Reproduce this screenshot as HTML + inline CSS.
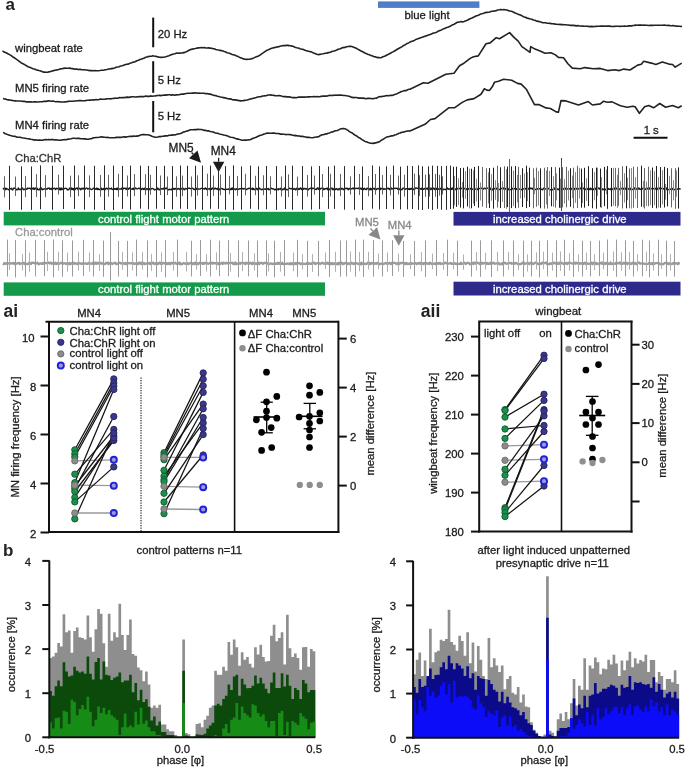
<!DOCTYPE html>
<html><head><meta charset="utf-8"><title>figure</title>
<style>html,body{margin:0;padding:0;background:#fff;} svg{display:block;} text{font-family:"Liberation Sans", Arial, sans-serif;}</style>
</head><body>
<svg width="685" height="767" viewBox="0 0 685 767">
<rect width="685" height="767" fill="#fff"/>
<text x="5.5" y="10" font-size="17" fill="#222" text-anchor="start" font-weight="bold" >a</text>
<rect x="378" y="1.4" width="101.4" height="6.5" fill="#4f7dc8"/>
<text x="404.4" y="19.1" font-size="11.3" fill="#1c1c1c" stroke="#1c1c1c" stroke-width="0.3" text-anchor="start" >blue light</text>
<line x1="153.2" y1="17.6" x2="153.2" y2="47.3" stroke="#111" stroke-width="2" />
<line x1="153.2" y1="61.2" x2="153.2" y2="92.8" stroke="#111" stroke-width="2" />
<line x1="153.2" y1="101" x2="153.2" y2="132.3" stroke="#111" stroke-width="2" />
<text x="157.7" y="37.7" font-size="11.3" fill="#1c1c1c" stroke="#1c1c1c" stroke-width="0.3" text-anchor="start" >20 Hz</text>
<text x="157.7" y="84.4" font-size="11.3" fill="#1c1c1c" stroke="#1c1c1c" stroke-width="0.3" text-anchor="start" >5 Hz</text>
<text x="157.7" y="120.2" font-size="11.3" fill="#1c1c1c" stroke="#1c1c1c" stroke-width="0.3" text-anchor="start" >5 Hz</text>
<text x="15" y="51.5" font-size="11.3" fill="#1c1c1c" stroke="#1c1c1c" stroke-width="0.3" text-anchor="start" >wingbeat rate</text>
<text x="15" y="91.8" font-size="11.3" fill="#1c1c1c" stroke="#1c1c1c" stroke-width="0.3" text-anchor="start" >MN5 firing rate</text>
<text x="15" y="128.8" font-size="11.3" fill="#1c1c1c" stroke="#1c1c1c" stroke-width="0.3" text-anchor="start" >MN4 firing rate</text>
<line x1="633.6" y1="137.7" x2="667.5" y2="137.7" stroke="#111" stroke-width="2" />
<text x="643.7" y="133.9" font-size="11.3" fill="#1c1c1c" stroke="#1c1c1c" stroke-width="0.3" text-anchor="start" >1 s</text>
<polyline points="2.5,51.1 3.4,51.5 4.6,52.2 6.1,52.7 7.9,53.8 10,54.9 11.2,55.6 12.5,56.7 13.9,57.5 15.5,58.7 17,59.7 18.6,60.8 20.3,62.1 21.9,63.3 23.5,64 25,64.9 26.5,65.8 28.1,66.7 29.7,67.3 31.3,67.9 32.9,68.8 34.5,69 36,69.8 37.4,70.1 38.8,70.5 40,70.8 41.9,71.5 43.3,72.1 44.5,72.1 45.9,72.2 48,72.1 49.2,71.8 50.6,71.6 52,71 53.6,70.6 55.2,70.2 56.9,69.9 58.6,69.4 60.3,68.9 61.9,68.7 63.5,68.4 65,68.1 66.6,68.2 68,68.2 69.5,68.1 70.9,68.4 72.3,68.6 73.7,68.9 75.2,69.1 76.7,69.1 78.3,69.6 80,69.3 81.4,69.6 82.8,69.8 84.2,69.7 85.6,70 87.1,70 88.6,70.4 90.1,70.6 91.7,70.6 93.3,70.8 94.9,70.6 96.6,70.8 98.3,70.7 100,70.5 101.3,70.3 102.7,70.3 104.1,70.1 105.6,69.7 107,69.5 108.5,69 110,68.9 111.6,68.6 113.1,68.4 114.6,67.9 116.1,67.3 117.6,67 119.1,66.7 120.6,66 122.1,65.8 123.6,65.3 125,64.8 126.6,64.3 128.3,64.1 130,63.2 131.7,62.7 133.4,62.1 135.1,61.7 136.8,60.7 138.4,60.2 140,59.6 141.6,59.1 143.1,58.5 144.5,58 145.7,57.3 146.9,57 148,56.6 150.4,56.2 151.9,56.1 152.9,55.8 153.8,56 155,56.2 156.5,56.4 157.9,56.9 159.5,57.3 161.1,57.4 163,57.2 164.3,57.1 165.8,56.7 167.3,56.2 168.9,55.8 170.5,55.1 172,54.5 173.6,54 175,53.7 176.6,53.1 178.1,53.3 179.7,53.1 181.2,53 182.6,52.9 183.9,52.6 185,52.4 186.9,51.5 188.1,50.8 190,49.7 191.2,49.4 192.5,49.1 193.9,48.8 195.5,48.5 197,48.1 198.5,47.9 200,47.8 201.4,47.6 202.9,47.7 204.3,47.6 205.7,48 207.1,48 208.6,47.9 210,48.1 211.4,48.3 212.9,48.6 214.3,48.8 215.7,49.4 217.1,49.8 218.6,50 220,50.4 221.4,50.6 222.9,51.1 224.3,51.6 225.7,52 227.1,52.8 228.6,53 230,53.4 231.5,54.3 233,54.7 234.5,55.1 236.1,55.8 237.5,56.2 238.8,56.9 240,57.5 242,58.3 243.5,58.9 245,59.2 246.6,59.4 248.1,59.3 250,59.2 251.4,58.7 252.9,58.4 254.5,57.6 256.2,56.8 258,56.2 259.3,55.6 260.7,54.6 262,53.7 263.5,52.7 264.9,51.7 266.4,50.6 268,49.9 269.5,49.2 271,48.5 272.7,48 274.3,47.6 275.9,47.2 277.4,46.9 278.8,46.7 280,46.2 282.1,45.8 283.4,45.6 285,45.6 286.3,45.4 287.6,45.4 289,45.6 290.5,45.8 292,46.1 293.5,46.6 295,47.2 296.6,47.7 298.3,48 300,48.7 301.3,49.1 302.8,49.3 304.3,49.9 305.7,50.5 307.2,50.9 308.7,51.3 310,51.6 311.8,52.1 313.5,53 315.1,53.5 316.6,54.2 318,54.6 319.9,54.4 321.4,54 323,53.8 324.1,53.6 325.2,53.3 326.5,53.1 328.5,52.6 329.6,52.5 330.9,52 332.4,51.3 334,51 335.6,50.5 337.3,49.8 338.9,49.1 340.4,48.7 341.8,48 343,47.6 345,47.4 346.6,46.8 347.9,46.5 349.1,46.4 350.3,46.2 351.8,46.5 353.1,47 355,47.7 356.2,48.3 357.7,49.1 359.3,50 361,51 362.7,51.8 364.4,52.7 366,53.4 367.6,54.3 369.3,54.8 371,55.4 372.6,56 374.2,56.7 375.7,56.9 377,57.4 378.7,57.6 379.9,57.8 381.3,57.6 383.5,56.6 384.6,56.3 386,55.5 387.5,54.7 389,54.1 390.7,53 392.4,52.1 394.1,51.3 395.7,50.3 397.3,49.3 398.7,48.5 400,47.8 401.8,46.9 403.3,45.7 404.7,45.1 406.1,44.2 407.3,43.4 408.6,42.9 410,42.1 411.4,41.5 412.9,40.9 414.3,40.4 415.7,39.6 417.1,39.1 418.6,38.5 420,38 421.4,37.5 422.9,36.9 424.3,36.4 425.7,35.9 427.1,35.6 428.6,35 430,34.6 431.4,34.1 432.8,33.3 434.3,32.9 435.7,32.5 437.1,31.9 438.5,31 440,30.4 441.5,29.9 443,29.1 444.6,28.5 446.1,27.7 447.7,27.3 449.1,26.7 450.5,26.1 452.3,24.9 454.1,24.2 455.7,23.3 457.3,22.3 458.7,22.1 460.1,21.8 461.3,21.5 462.5,21.9 464,21.4 465.3,20.9 466.7,20.5 468.3,19.8 469.9,18.8 471.5,18.2 473,17.5 474.5,16.8 476,16 477.6,15.4 479.1,14.9 480.6,14 482,13.7 483.7,13.2 485.3,12.6 486.9,12.4 488.4,12.3 489.8,11.9 491.5,11.3 493,11.3 494.5,10.9 496,10.7 497.6,10 499.2,9.8 500.8,9.5 502.5,9.7 503.9,9.6 505.3,9.7 506.8,10 508.3,10.6 510,11 511.5,11.3 513.2,11.9 514.9,13 516.7,13.6 518.3,14.4 519.7,14.7 521.5,15.5 523,16.4 524.3,16.9 525.6,17.3 527.1,18.2 528.6,18.4 530.5,19 531.8,19.2 533.3,20 534.9,20.2 536.6,21.1 538.3,21.4 540,21.8 541.4,22.2 542.8,22.7 544.3,22.7 545.7,22.8 547.1,23.2 548.6,23.3 550,23.4 551.4,23.6 552.7,23.7 554,23.9 555.4,24.1 556.8,24.2 558.3,24.5 560,24.4 561.3,24.6 562.7,24.6 564.1,24.8 565.6,24.7 567.2,25 568.8,25 570.3,25.4 571.9,25.4 573.5,25.4 575,25.6 576.5,25.9 578,25.6 579.5,26 581,26 582.5,26.1 584,26.3 585.5,26.2 587,26.3 588.5,26.4 590,26.6 591.5,26.4 593,26.6 594.5,26.5 596,26.4 597.5,26.3 599,26.2 600.5,26.1 602,26.1 603.5,26 605,26.3 606.5,26.1 608.1,26.1 609.7,26.1 611.2,26.4 612.8,26.5 614.4,26.4 615.9,26.3 617.3,26.3 618.7,26.3 620,26.4 621.7,26.2 623.2,26.3 624.6,26.1 626,26.3 627.3,26.2 628.6,25.9 630,25.7 631.4,25.9 632.9,25.5 634.3,25.4 635.7,25.1 637.1,25.2 638.6,25.1 640,25.1 641.4,25 642.9,25.2 644.3,25.1 645.7,25.3 647.1,25.3 648.6,25.5 650,25.4 651.4,25.4 652.9,25.4 654.3,25.3 655.7,25.3 657.1,25.2 658.6,25.2 660,25.2 661.4,25.2 662.8,25.3 664.2,25.1 665.6,25.2 667,25.5 668.5,25.3 670,25.6 671.5,25.7 673.1,25.5 674.9,26 676.6,26.1 678.3,26.2 679.8,26.3 681.1,26.5 682,26.4" fill="none" stroke="#222" stroke-width="1.6" stroke-linejoin="round" />
<polyline points="3,98.4 4,98.8 5.3,99.1 6.9,99.6 8.7,99.9 10.5,100.3 12.4,100.4 13.8,100.8 15.3,100.9 16.9,101 18.5,101 20.2,101 21.8,101.2 23.4,101.4 25,101.4 26.5,101.9 28,101.8 29.5,101.9 31,101.9 32.5,102 33.9,101.9 35.5,101.7 37,102 38.4,102 39.8,101.8 41.3,101.7 42.8,101.6 44.2,101.2 45.7,101.4 47.2,101.1 48.6,100.9 50,101 51.5,101.2 53.1,101.1 54.6,101.5 56,101.7 57.5,101.6 59,101.7 60.5,101.9 62,102 63.5,102 65.1,101.9 66.6,101.8 68.2,101.4 69.7,101.3 71.3,101.2 72.8,101.3 74.4,101 76,101 77.6,100.7 79.1,100.6 80.7,100.6 82.3,100.8 83.9,100.7 85.5,100.6 87,100.3 88.5,100.3 90,100.1 91.5,100 93,99.7 94.5,100 95.9,99.5 97.5,99.8 99,99.6 100.4,99.1 101.8,99.2 103.3,99.3 104.8,99.3 106.2,98.9 107.7,98.8 109.2,98.7 110.6,98.9 112,98.5 113.5,98.5 115.1,98.1 116.6,98.2 118,98.2 119.5,97.6 121,97.8 122.5,97.5 124,97.6 125.5,97.4 127.1,97.1 128.7,97.4 130.2,97.1 131.8,96.8 133.4,96.8 134.9,97 136.5,96.9 138.1,96.7 139.6,96.6 141.2,96.6 142.8,96.5 144.3,96.6 145.9,96.1 147.5,96.4 149,96.4 150.5,95.9 152.1,96.2 153.7,96 155.2,96 156.7,95.6 158.2,95.5 159.6,95.4 161,95.6 162.7,95.3 164.3,95.1 165.8,95.1 167.2,94.9 168.6,94.7 170,94.7 171.6,95.1 173.2,94.8 174.7,95.2 176.3,94.9 178,94.8 179.3,94.7 180.7,94.3 182,94.1 183.5,94.1 184.9,93.8 186.4,93.5 188,93.3 189.4,93.3 190.9,93.3 192.4,93.1 194,93.1 195.6,92.8 197.1,93.2 198.6,93.1 200,93.3 201.5,93.3 202.9,93.2 204.3,93.2 205.7,93.8 207.1,93.5 208.5,93.9 210,94.1 211.4,94.4 212.8,95 214.3,95.5 215.8,95.6 217.3,96.2 218.9,96.5 220.4,97 222,97.3 223.4,97.6 224.9,97.9 226.5,98.2 228,98.8 229.6,98.9 231.1,99.1 232.5,99.7 233.8,99.9 235,99.9 236.7,100.1 238.1,100.4 239.3,100.6 240.5,100.9 242,100.7 243.2,100.6 244.5,100.4 245.8,100.2 247.2,100 248.7,99.5 250.3,99 252,98.6 253.3,98.3 254.7,97.9 256.2,97.5 257.8,97 259.3,96.7 260.9,96.7 262.4,96 263.9,95.9 265.3,95.7 266.5,95.6 268.2,95 269.4,95 270.5,94.9 271.7,95.1 273.1,95.2 275,95.6 276.2,95.7 277.5,95.8 279,95.6 280.5,95.8 282.1,96.3 283.8,96.6 285.4,96.6 287.1,96.9 288.7,96.8 290.2,97.1 291.7,97.5 293,97.6 294.8,97.6 296.4,97.7 297.8,97.3 299.2,97.1 300.5,97 301.9,97.1 303.4,97.1 305,97.1 306.4,97 307.8,96.9 309.3,96.9 310.9,96.7 312.4,96.8 314,96.5 315.6,96.8 317.1,96.5 318.6,96.8 320,96.6 321.5,96.3 323,96.1 324.5,96 326,96.1 327.4,96 328.8,95.5 330.2,95.4 331.6,95.5 333,95.4 334.6,95.3 336.1,95.1 337.7,95.3 339.2,95 340.8,95.1 342.2,95.2 343.7,95.5 345,95.5 346.6,95.8 347.9,96 349.1,96.2 350.4,96.7 352,97.4 354,97.6 355.2,97.5 356.5,97.5 357.9,97.9 359.5,98.1 361.1,98.1 362.8,98.1 364.5,98.4 366.1,98.7 367.7,98.4 369.2,98.3 370.6,98.5 371.9,98.6 373,98.7 375,98.3 376.3,98.2 377.2,97.7 378.3,97.1 380,96.6 381.2,96.7 382.6,96.2 384.1,96.3 385.7,95.8 387.4,95.6 389.1,95.7 390.7,95.2 392.1,95.4 393.5,94.9 394.6,94.5 396.5,94 397.6,93.4 398.5,92.9 400,92.3 401.3,91.5 402.8,91.2 404.5,90.6 406.2,90.6 407.7,89.7 409.1,89.3 410,89.3 423.4,82.8 428,83.3 445.8,74.2 454,73.2 459.5,65.7 463,63.8 470.2,58.4 473.5,56.8 478.3,55.9 486,43.7 490.2,42.9 496.2,37.7 499.5,38.8 509.6,32.6 514,37.4 518.2,41.1 521.9,46.6 525.5,49.1 530,52.4 530.7,46.6 535,49.1 540.1,51 545,53.2 551,52.7 555.5,54.9 558.4,57.4 563.5,57.8 567.9,63.7 572.3,68.1 580.3,68.8 584.7,67.6 593.4,68.8 600.3,68.4 607.6,70.6 614.7,69.7 619.4,70.6 623.8,69.1 630,70 637.7,65.1 641.3,64.2 643.7,61.2 651.3,63.1 655.8,64.5 662.3,62.1 668.9,64.1 672.6,64.5 675.2,67.1 681.7,63.1" fill="none" stroke="#222" stroke-width="1.6" stroke-linejoin="round" />
<polyline points="3,132.4 4,132.9 5.3,133.7 6.9,134.3 8.7,134.9 10.5,135.6 12.4,136.1 13.8,136.2 15.3,136.4 16.9,137.1 18.5,137.3 20.2,137.2 21.8,137.8 23.4,138 25,138.2 26.5,138.5 28,138.7 29.5,138.9 31,139.3 32.5,139.5 33.9,140.1 35.5,139.8 37,140.3 38.4,140 39.8,140.1 41.3,140.2 42.8,140.1 44.2,139.8 45.7,139.6 47.2,139.7 48.6,139.6 50,139.8 51.5,139.5 53.1,139.6 54.6,140 56,139.7 57.5,140 59,140.3 60.5,140.3 62,139.9 63.5,139.7 65.1,139.5 66.6,139.7 68.2,139.1 69.7,139 71.3,138.8 72.8,138.3 74.4,138.2 76,138.5 77.6,138.4 79.1,138.4 80.7,138.8 82.3,138.8 83.9,138.9 85.5,138.9 87,139.2 88.5,139.2 90,138.8 91.5,138.7 93,137.9 94.5,137.7 95.9,137.5 97.5,137.5 99,137.3 100.4,137 101.8,136.9 103.3,137.1 104.8,137.2 106.2,137.5 107.7,137.3 109.2,137.7 110.6,137.7 112,137.8 113.5,137.7 115.1,137.6 116.6,137.4 118,137.4 119.5,137.3 121,137.4 122.5,137 124,136.9 125.6,137.1 127.2,136.7 128.9,136.5 130.5,136.3 132.2,136.4 133.7,136.1 135.2,136.3 136.5,136.1 138.4,135.9 140,135.2 141.4,134.8 142.7,134.5 144,134.6 145.8,134.7 147.4,134.7 149,135 150.4,135.5 151.9,136.2 153.5,136.8 155,137.2 156.4,137.3 157.8,137 159.3,136.5 161,136.6 162.3,136.2 163.8,136.1 165.4,135.9 167,135.9 168.5,135.4 170,135.3 171.6,135.1 173,134.9 174.4,135 176,134.6 178,134 179.3,133.7 180.7,133.5 182.2,132.7 183.7,131.9 185.3,131.6 187,131 188.6,130.6 190.2,129.8 191.8,129.7 193.4,129.7 194.9,129.6 196.4,129.6 198,129.2 199.5,129.5 201.1,129.5 202.7,129.8 204.3,130.4 206,130.4 207.4,130.9 208.8,130.9 210.3,131.5 211.8,131.7 213.3,132 214.8,132.7 216.3,133.2 217.8,133.2 219.2,133.9 220.7,134.3 222,134.5 223.6,135 225.2,135.3 226.8,135.8 228.3,136.3 229.8,136.9 231.2,137.3 232.6,137.5 233.8,137.7 235,138.2 236.8,138.9 238.2,139.1 239.4,139.5 240.6,139.8 242,140.2 243.4,140.3 244.7,140.1 246.1,140.1 247.8,140 250,139.6 251.2,139.3 252.5,138.5 254,138 255.5,137.6 257.1,136.7 258.7,136 260.4,135.3 262,135 263.6,134.1 265.1,133.8 266.5,133.3 268.1,133.1 269.7,133.2 271.3,133.3 272.8,133.1 274.3,133.1 275.7,133.5 277.2,133.5 278.6,133.5 280,134.1 281.5,134 282.9,134.3 284.2,134.2 285.6,134.6 286.9,134.5 288.4,134.5 290.1,134.6 292,135.1 293.2,135.3 294.6,135.6 296,135.4 297.6,135.9 299.2,136 300.8,136.4 302.5,136.4 304.1,136.7 305.7,137 307.3,137.4 308.8,137.2 310.2,137.5 311.5,137.7 312.6,137.8 314.8,137.3 316.5,137 317.8,136.9 319.1,136.4 320.4,135.5 322,134.8 323.4,134.8 324.9,134.1 326.5,133.9 328.1,133.3 329.6,132.9 331.2,132.1 332.6,132 334,131.3 335.7,130.8 337.2,130.4 338.7,129.9 340.1,129.1 341.4,128.7 342.6,128.6 343.9,128.6 344.7,128.7 345.8,129.1 348,130.4 349.1,131.3 350.4,132.2 351.8,132.7 353.4,134 355.1,135.2 356.8,136 358.6,137.6 360.3,138.3 362,139.6 363.5,140.5 365,141.4 366.3,141.8 368.2,142.6 370,143.1 371.5,143.2 372.9,143.4 374.3,143.1 375.6,142.9 377,142.4 378.6,142.1 380.2,141.2 381.7,140 383.2,139.2 384.6,138.3 386,137.4 387.5,136.7 388.9,136.6 390.2,136.2 391.6,135.9 393.2,135.7 394.5,135 395.9,134.7 397.4,134.1 398.9,133.3 400.3,133 401.7,132.2 403,132.1 404.7,131.7 406.3,131.3 407.8,130.9 409.1,131 410,130.9 425,124.3 430.5,119.5 435,118.6 449,107.7 454.8,107.7 462.2,102.4 467.3,99.9 474,98.6 481,94.2 484.4,88.8 486.8,90.1 489.4,90.5 492.4,86.6 494.4,82.3 498.5,81.2 503.6,79.3 511.7,80.2 517.5,83.4 521.2,84.1 526.3,89.2 534.5,104.6 538.7,104.6 546,107.9 550.4,108.5 556.2,111.9 558.4,112.3 561,100.6 566,100.9 578.5,105 588.3,101.6 592.4,105 600.3,103.9 603.6,101.2 607.3,102.2 612.1,101.9 620.4,105.8 627.2,107.2 632.8,106.2 635.1,106.8 639.4,113.3 644.6,106.8 648.7,105.5 653.6,107.8 659.7,103.5 665.6,107.2 672.6,105.5 678.3,107.8 681.7,105.8" fill="none" stroke="#222" stroke-width="1.6" stroke-linejoin="round" />
<text x="15" y="162" font-size="11.3" fill="#333" stroke="#333" stroke-width="0.3" text-anchor="start" >Cha:ChR</text>
<text x="168.6" y="151.8" font-size="11.9" fill="#1c1c1c" stroke="#1c1c1c" stroke-width="0.3" text-anchor="start" >MN5</text>
<text x="210.7" y="155.3" font-size="11.9" fill="#1c1c1c" stroke="#1c1c1c" stroke-width="0.3" text-anchor="start" >MN4</text>
<line x1="191.6" y1="152.5" x2="193.2" y2="154.3" stroke="#1c1c1c" stroke-width="1.3" />
<polygon points="201,162.8 189,158.2 197.5,150.4" fill="#1c1c1c"/>
<line x1="218.6" y1="157.8" x2="218.6" y2="161.7" stroke="#1c1c1c" stroke-width="1.3" />
<polygon points="218.6,172.2 212.9,161.7 224.3,161.7" fill="#1c1c1c"/>
<polyline points="3,188 3.7,189.1 4.4,188.7 5.1,188.1 5.8,189.8 6.5,188.4 7.2,189 7.9,189.2 8.6,189.8 9.3,189.2 10,188.7 10.7,188.8 11.4,188.2 12.1,189.8 12.8,189.9 13.5,188.3 14.2,188 14.9,188.4 15.6,188.6 16.3,189.7 17,189.7 17.7,189.6 18.4,188 19.1,189.5 19.8,189.3 20.5,189.2 21.2,189.9 21.9,188 22.6,188.2 23.3,189.4 24,189.8 24.7,189.3 25.4,188.5 26.1,189.1 26.8,189.4 27.5,188.1 28.2,188.5 28.9,188.4 29.6,188.1 30.3,188.9 31,188.2 31.7,188.4 32.4,188.2 33.1,189.3 33.8,187.9 34.5,189.3 35.2,188.3 35.9,188 36.6,189.8 37.3,188.3 38,189.8 38.7,189.6 39.4,189.7 40.1,188.2 40.8,188.8 41.5,188.1 42.2,189.8 42.9,189.6 43.6,189.2 44.3,188.8 45,188.6 45.7,189.5 46.4,188.9 47.1,189.2 47.8,188.2 48.5,188.3 49.2,188 49.9,189.3 50.6,189 51.3,188.2 52,189.6 52.7,188.4 53.4,188.7 54.1,188.2 54.8,188.4 55.5,189.6 56.2,188.6 56.9,188.2 57.6,188.9 58.3,188.5 59,189.7 59.7,188.1 60.4,189.9 61.1,188 61.8,189.7 62.5,189.2 63.2,188.3 63.9,188.9 64.6,188.5 65.3,188.4 66,188.3 66.7,188.6 67.4,189.9 68.1,189.9 68.8,189.8 69.5,188.1 70.2,188.5 70.9,189.7 71.6,188 72.3,189.4 73,188.5 73.7,189.9 74.4,187.9 75.1,189.5 75.8,188.6 76.5,188.2 77.2,187.9 77.9,189.6 78.6,189 79.3,188.3 80,188.8 80.7,189.7 81.4,188.3 82.1,189 82.8,188.2 83.5,188.3 84.2,189.4 84.9,189.3 85.6,188.3 86.3,188.1 87,188.1 87.7,189.1 88.4,188.9 89.1,188.4 89.8,188.3 90.5,189.1 91.2,189.3 91.9,189.5 92.6,189.1 93.3,188.3 94,188 94.7,189.4 95.4,188.7 96.1,189.3 96.8,188 97.5,189.5 98.2,188.6 98.9,189.6 99.6,189.6 100.3,188.9 101,187.9 101.7,189.7 102.4,188.9 103.1,189.6 103.8,188.4 104.5,188.3 105.2,189.6 105.9,188.6 106.6,188.2 107.3,188.6 108,189.1 108.7,187.9 109.4,188.9 110.1,188.8 110.8,188.9 111.5,188.1 112.2,189.3 112.9,189.5 113.6,189.6 114.3,188.5 115,189.3 115.7,188.7 116.4,189.4 117.1,188 117.8,189.6 118.5,189.8 119.2,188.9 119.9,188.9 120.6,189 121.3,189 122,187.9 122.7,189.8 123.4,188.3 124.1,188.3 124.8,188.1 125.5,188.4 126.2,189.5 126.9,188 127.6,188.1 128.3,189.3 129,188.3 129.7,187.9 130.4,189.1 131.1,189.1 131.8,188.9 132.5,189.3 133.2,188.1 133.9,189.6 134.6,189.3 135.3,188 136,188.1 136.7,188.9 137.4,188.9 138.1,188.5 138.8,188.1 139.5,188.7 140.2,188.2 140.9,189.1 141.6,189.6 142.3,188.2 143,189 143.7,189.4 144.4,188.2 145.1,189.6 145.8,189.8 146.5,188.7 147.2,188.7 147.9,189.6 148.6,189 149.3,188.7 150,189.8 150.7,189.5 151.4,188.6 152.1,188.4 152.8,188.6 153.5,188.8 154.2,189.9 154.9,189.5 155.6,189.7 156.3,189.5 157,189.6 157.7,188 158.4,188.9 159.1,189.8 159.8,189.8 160.5,188.4 161.2,188.7 161.9,189.2 162.6,188.6 163.3,189 164,188 164.7,188.8 165.4,188.9 166.1,187.9 166.8,188.2 167.5,189.8 168.2,189.5 168.9,189.8 169.6,189.2 170.3,189.5 171,189.7 171.7,189.7 172.4,188 173.1,189.2 173.8,188.4 174.5,189.3 175.2,188.4 175.9,189 176.6,189.7 177.3,189.1 178,188.4 178.7,188.9 179.4,188.8 180.1,189.8 180.8,188.5 181.5,188.5 182.2,189.2 182.9,188.1 183.6,189.1 184.3,189.8 185,188.9 185.7,188.4 186.4,188.8 187.1,189 187.8,188.2 188.5,188.1 189.2,188.2 189.9,188.5 190.6,188.7 191.3,188.5 192,188.4 192.7,188.1 193.4,189 194.1,189.6 194.8,189.1 195.5,189 196.2,189.2 196.9,188.3 197.6,189.3 198.3,188.8 199,189 199.7,189.1 200.4,188.8 201.1,188.5 201.8,188.4 202.5,188.3 203.2,188.9 203.9,188.7 204.6,189.1 205.3,187.9 206,188.6 206.7,189.6 207.4,188.4 208.1,189 208.8,188.9 209.5,188.5 210.2,189.9 210.9,188.5 211.6,189.4 212.3,188.2 213,188 213.7,189.6 214.4,188.8 215.1,188 215.8,188.7 216.5,188.8 217.2,189.4 217.9,188.1 218.6,188.4 219.3,189.8 220,189.4 220.7,188.2 221.4,188.6 222.1,188.6 222.8,189.3 223.5,189.1 224.2,189.6 224.9,189.5 225.6,188.9 226.3,189.4 227,189.4 227.7,189.4 228.4,188.9 229.1,189.5 229.8,189.3 230.5,189.7 231.2,188.2 231.9,189.6 232.6,187.9 233.3,189.4 234,189.1 234.7,188.9 235.4,189.8 236.1,189 236.8,188.7 237.5,189.5 238.2,189.6 238.9,189.1 239.6,188.7 240.3,188.8 241,188.8 241.7,189.3 242.4,188.5 243.1,188.7 243.8,189 244.5,188.7 245.2,188.5 245.9,189.5 246.6,189.6 247.3,188.9 248,188.8 248.7,188.3 249.4,188.5 250.1,188.2 250.8,189.1 251.5,189.1 252.2,188.1 252.9,189.7 253.6,188.5 254.3,189.6 255,189.6 255.7,189.8 256.4,188.3 257.1,188.8 257.8,189.7 258.5,187.9 259.2,188 259.9,189 260.6,188.9 261.3,189.7 262,189.4 262.7,189 263.4,189.9 264.1,188.9 264.8,188.9 265.5,189.3 266.2,188.7 266.9,188.6 267.6,189.1 268.3,188.6 269,189.8 269.7,189.3 270.4,189 271.1,188.1 271.8,188.6 272.5,188.7 273.2,189 273.9,189 274.6,189.7 275.3,189.8 276,188.9 276.7,188.8 277.4,189.1 278.1,189.9 278.8,188.6 279.5,189 280.2,189.5 280.9,188.2 281.6,188.5 282.3,189.9 283,189.6 283.7,188.9 284.4,188.1 285.1,189.7 285.8,189.3 286.5,189.5 287.2,189.9 287.9,189.7 288.6,188.7 289.3,188.2 290,188.5 290.7,188.9 291.4,188.9 292.1,188.3 292.8,188.3 293.5,189.2 294.2,189.1 294.9,188.6 295.6,189.9 296.3,189.2 297,188 297.7,188.7 298.4,189.5 299.1,188.5 299.8,189.3 300.5,187.9 301.2,188.5 301.9,189.6 302.6,189.1 303.3,189.2 304,188.3 304.7,188.9 305.4,189 306.1,188.4 306.8,189.2 307.5,189 308.2,189.9 308.9,189 309.6,188.7 310.3,188.1 311,188.2 311.7,189.4 312.4,188.1 313.1,188.1 313.8,188.2 314.5,188.9 315.2,189.5 315.9,189.1 316.6,189.5 317.3,188 318,187.9 318.7,189.4 319.4,188.5 320.1,189.3 320.8,188.6 321.5,188.2 322.2,188.4 322.9,188.1 323.6,189.7 324.3,189.1 325,188.6 325.7,188.8 326.4,188.7 327.1,188 327.8,189.7 328.5,189.1 329.2,189.8 329.9,188.8 330.6,189.1 331.3,188.4 332,188 332.7,189.8 333.4,189.6 334.1,188.5 334.8,189.7 335.5,189.5 336.2,188.5 336.9,189.1 337.6,189.8 338.3,188.9 339,189.8 339.7,188.4 340.4,188.7 341.1,189.3 341.8,188.3 342.5,188.5 343.2,189.7 343.9,188.9 344.6,189.5 345.3,188.4 346,188.2 346.7,188.6 347.4,188.3 348.1,189.8 348.8,188.5 349.5,189 350.2,188.1 350.9,189 351.6,188.7 352.3,188.7 353,188 353.7,188.1 354.4,189.6 355.1,188.6 355.8,188.4 356.5,188.3 357.2,188.5 357.9,188.4 358.6,188 359.3,189.2 360,188.6 360.7,188.2 361.4,189.3 362.1,188.1 362.8,188.4 363.5,189.6 364.2,188.2 364.9,188.8 365.6,189.6 366.3,189.5 367,188.2 367.7,188.6 368.4,189.3 369.1,188.7 369.8,189.8 370.5,188.3 371.2,189.8 371.9,188.9 372.6,188.4 373.3,188.8 374,188.2 374.7,189.3 375.4,188.4 376.1,189.7 376.8,189.1 377.5,188.6 378.2,188.4 378.9,189.1 379.6,188.3 380.3,189.6 381,188.1 381.7,188.9 382.4,189 383.1,188.4 383.8,189.4 384.5,188.7 385.2,189.2 385.9,189 386.6,188.5 387.3,188.7 388,188.1 388.7,188.3 389.4,189.6 390.1,188.5 390.8,189.2 391.5,188.1 392.2,189 392.9,188.6 393.6,188.9 394.3,188.5 395,188 395.7,188.5 396.4,188.4 397.1,188.2 397.8,189.3 398.5,188.5 399.2,188.7 399.9,189.7 400.6,189.4 401.3,189.7 402,189.6 402.7,188.2 403.4,188.5 404.1,188 404.8,189.3 405.5,189.2 406.2,188.6 406.9,188.7 407.6,189.2 408.3,189.3 409,188.4 409.7,189.6 410.4,188.6 411.1,189.2 411.8,188.3 412.5,188.1 413.2,189.7 413.9,189.4 414.6,189.3 415.3,188 416,188 416.7,188.2 417.4,188.3 418.1,188.5 418.8,188.7 419.5,188 420.2,188.5 420.9,189.2 421.6,188.3 422.3,189.6 423,189 423.7,189.3 424.4,188.4 425.1,188.8 425.8,189.3 426.5,188.6 427.2,187.9 427.9,189.6 428.6,189.5 429.3,188.5 430,188 430.7,189.6 431.4,189.1 432.1,188 432.8,188.4 433.5,188.1 434.2,189.5 434.9,188.3 435.6,189.7 436.3,189.4 437,188.1 437.7,189.3 438.4,188.7 439.1,189.4 439.8,189.6 440.5,188.5 441.2,188.1 441.9,189.8 442.6,188.7 443.3,189.8 444,189.3 444.7,189.4 445.4,189.6 446.1,189.2 446.8,188.8 447.5,188 448.2,189.3 448.9,188.8 449.6,188.9 450.3,189.8 451,188.2 451.7,189.4 452.4,188 453.1,189.3 453.8,189.5 454.5,188.4 455.2,189 455.9,189.8 456.6,189.2 457.3,189 458,188.4 458.7,188 459.4,188.6 460.1,188.7 460.8,188.3 461.5,188.5 462.2,188.2 462.9,189.3 463.6,189.2 464.3,188.4 465,188.4 465.7,188.9 466.4,188.8 467.1,189.8 467.8,188.6 468.5,188.5 469.2,189.7 469.9,188.2 470.6,189 471.3,188.6 472,189.5 472.7,189 473.4,189.4 474.1,188.2 474.8,189.2 475.5,189.1 476.2,188.8 476.9,189.4 477.6,189.6 478.3,188.1 479,188.5 479.7,188.6 480.4,188.3 481.1,188 481.8,188.5 482.5,188.3 483.2,189.3 483.9,188.8 484.6,188.1 485.3,188.5 486,188.8 486.7,188.6 487.4,188.2 488.1,188 488.8,187.9 489.5,189.9 490.2,189.4 490.9,188.1 491.6,189.3 492.3,189.9 493,189 493.7,188.1 494.4,188.9 495.1,188.8 495.8,188.3 496.5,189 497.2,187.9 497.9,189.7 498.6,189.2 499.3,189.2 500,189.8 500.7,189.2 501.4,188.4 502.1,188.4 502.8,188.2 503.5,188 504.2,189.4 504.9,189.6 505.6,188.5 506.3,188.3 507,189.2 507.7,189.6 508.4,189.8 509.1,188.2 509.8,189.5 510.5,189.6 511.2,189.4 511.9,188.6 512.6,188.3 513.3,189.6 514,188.5 514.7,188.6 515.4,189 516.1,188.6 516.8,189.6 517.5,188.4 518.2,188 518.9,189 519.6,189.2 520.3,189.5 521,189.3 521.7,189.7 522.4,189.8 523.1,188.9 523.8,188.9 524.5,188.2 525.2,188.5 525.9,189.1 526.6,188.1 527.3,189.3 528,188.2 528.7,188.8 529.4,189.8 530.1,188.1 530.8,188 531.5,188.8 532.2,188.3 532.9,189.3 533.6,187.9 534.3,189.6 535,189.6 535.7,189.5 536.4,188.8 537.1,188.5 537.8,189.2 538.5,188.9 539.2,188.7 539.9,188.6 540.6,188.8 541.3,189.2 542,189.6 542.7,189.7 543.4,188.2 544.1,188.5 544.8,188.8 545.5,189 546.2,188.6 546.9,188.3 547.6,188.1 548.3,188.5 549,188.8 549.7,189.8 550.4,189.7 551.1,189.6 551.8,189.8 552.5,189.8 553.2,189.1 553.9,189.5 554.6,188 555.3,189.3 556,189.1 556.7,188.5 557.4,189 558.1,189.8 558.8,188.9 559.5,189.2 560.2,188.5 560.9,188.6 561.6,189.7 562.3,188 563,188.3 563.7,189.3 564.4,188.8 565.1,188.1 565.8,189.2 566.5,188.6 567.2,189.1 567.9,188.7 568.6,189 569.3,189 570,188.7 570.7,188.1 571.4,188.3 572.1,189.7 572.8,189 573.5,188.1 574.2,189.6 574.9,188.4 575.6,188.1 576.3,189 577,188.4 577.7,188.9 578.4,189 579.1,188.4 579.8,189 580.5,188.1 581.2,188.9 581.9,189.1 582.6,188.1 583.3,188.7 584,188 584.7,188.8 585.4,189.6 586.1,189 586.8,189.3 587.5,189.4 588.2,188.1 588.9,189.9 589.6,189.3 590.3,188.1 591,189.6 591.7,188.7 592.4,188.2 593.1,189.8 593.8,189 594.5,189.4 595.2,188.2 595.9,189.5 596.6,188 597.3,188.4 598,188.6 598.7,187.9 599.4,189.1 600.1,188.3 600.8,188.5 601.5,189.3 602.2,188.8 602.9,189.7 603.6,189.1 604.3,189.6 605,189 605.7,189.7 606.4,189.6 607.1,188.2 607.8,189.4 608.5,188.6 609.2,189.4 609.9,189.3 610.6,189.6 611.3,188.1 612,188.6 612.7,189.4 613.4,189.8 614.1,189.3 614.8,188 615.5,189.1 616.2,188.1 616.9,189 617.6,189.5 618.3,188.1 619,189.8 619.7,189.3 620.4,188.4 621.1,188.3 621.8,188.8 622.5,189.6 623.2,189.1 623.9,188.1 624.6,187.9 625.3,188.1 626,189.5 626.7,188.3 627.4,189 628.1,188.5 628.8,189.3 629.5,188.7 630.2,188.2 630.9,189.7 631.6,189 632.3,189.3 633,189.5 633.7,189.8 634.4,187.9 635.1,188.6 635.8,188.2 636.5,188.9 637.2,189.6 637.9,189.5 638.6,188 639.3,188.3 640,189.5 640.7,189.3 641.4,188.7 642.1,188.9 642.8,188.2 643.5,189.6 644.2,188.7 644.9,189.6 645.6,189.1 646.3,188.1 647,188.6 647.7,188.3 648.4,189.7 649.1,189.1 649.8,188 650.5,188.2 651.2,188.6 651.9,188.8 652.6,189.1 653.3,188.7 654,188.6 654.7,187.9 655.4,189.1 656.1,188.6 656.8,187.9 657.5,188.8 658.2,189.9 658.9,188 659.6,188.2 660.3,189.2 661,188.4 661.7,188.4 662.4,188.9 663.1,188.4 663.8,189 664.5,189 665.2,189.8 665.9,189.9 666.6,188 667.3,189 668,189.4 668.7,189.6 669.4,189.4 670.1,189.2 670.8,189.2 671.5,188.6 672.2,188.5 672.9,189.5 673.6,189.6 674.3,189.8 675,189.3 675.7,188.5 676.4,189.4 677.1,189.4 677.8,188.9 678.5,189.2 679.2,188.6 679.9,189 680.6,188.7" fill="none" stroke="#1a1a1a" stroke-width="1.4" stroke-linejoin="round" stroke-linejoin="miter"/>
<line x1="9.5" y1="165.8" x2="9.5" y2="209.9" stroke="#2a2a2a" stroke-width="1.0" />
<line x1="4.5" y1="176.3" x2="4.5" y2="197.4" stroke="#505050" stroke-width="0.9" />
<line x1="21.5" y1="166.3" x2="21.5" y2="209.8" stroke="#2a2a2a" stroke-width="1.0" />
<line x1="15.5" y1="176.6" x2="15.5" y2="195.9" stroke="#505050" stroke-width="0.9" />
<line x1="31.5" y1="166.5" x2="31.5" y2="209.9" stroke="#2a2a2a" stroke-width="1.0" />
<line x1="25.5" y1="176.1" x2="25.5" y2="197.2" stroke="#505050" stroke-width="0.9" />
<line x1="40.5" y1="165.4" x2="40.5" y2="209.2" stroke="#2a2a2a" stroke-width="1.0" />
<line x1="36.5" y1="174.2" x2="36.5" y2="197.1" stroke="#505050" stroke-width="0.9" />
<line x1="52.5" y1="165.7" x2="52.5" y2="209.8" stroke="#2a2a2a" stroke-width="1.0" />
<line x1="45.5" y1="175.2" x2="45.5" y2="197.2" stroke="#505050" stroke-width="0.9" />
<line x1="63.5" y1="165.6" x2="63.5" y2="209" stroke="#2a2a2a" stroke-width="1.0" />
<line x1="58.5" y1="174.7" x2="58.5" y2="194.5" stroke="#505050" stroke-width="0.9" />
<line x1="74.5" y1="165.5" x2="74.5" y2="208.9" stroke="#2a2a2a" stroke-width="1.0" />
<line x1="70.5" y1="175.7" x2="70.5" y2="197.1" stroke="#505050" stroke-width="0.9" />
<line x1="84.5" y1="165.5" x2="84.5" y2="209.7" stroke="#2a2a2a" stroke-width="1.0" />
<line x1="78.5" y1="175.3" x2="78.5" y2="196.3" stroke="#505050" stroke-width="0.9" />
<line x1="94.5" y1="165.8" x2="94.5" y2="209.8" stroke="#2a2a2a" stroke-width="1.0" />
<line x1="89.5" y1="175.4" x2="89.5" y2="197" stroke="#505050" stroke-width="0.9" />
<line x1="104.5" y1="165.4" x2="104.5" y2="210" stroke="#2a2a2a" stroke-width="1.0" />
<line x1="100.5" y1="174.9" x2="100.5" y2="196.8" stroke="#505050" stroke-width="0.9" />
<line x1="113.5" y1="165.6" x2="113.5" y2="210" stroke="#2a2a2a" stroke-width="1.0" />
<line x1="108.5" y1="174.8" x2="108.5" y2="196.7" stroke="#505050" stroke-width="0.9" />
<line x1="122.5" y1="165.9" x2="122.5" y2="208.9" stroke="#2a2a2a" stroke-width="1.0" />
<line x1="118.5" y1="173.8" x2="118.5" y2="196.9" stroke="#505050" stroke-width="0.9" />
<line x1="130.5" y1="165.6" x2="130.5" y2="209.5" stroke="#2a2a2a" stroke-width="1.0" />
<line x1="127.5" y1="175.5" x2="127.5" y2="196.4" stroke="#505050" stroke-width="0.9" />
<line x1="140.5" y1="165.7" x2="140.5" y2="208.7" stroke="#2a2a2a" stroke-width="1.0" />
<line x1="134.5" y1="174.1" x2="134.5" y2="196.2" stroke="#505050" stroke-width="0.9" />
<line x1="148.5" y1="165.9" x2="148.5" y2="209.4" stroke="#2a2a2a" stroke-width="1.0" />
<line x1="145.5" y1="174.1" x2="145.5" y2="195.1" stroke="#505050" stroke-width="0.9" />
<line x1="156.5" y1="166.1" x2="156.5" y2="208.7" stroke="#2a2a2a" stroke-width="1.0" />
<line x1="150.5" y1="174.8" x2="150.5" y2="194.7" stroke="#505050" stroke-width="0.9" />
<line x1="164.5" y1="165.8" x2="164.5" y2="209" stroke="#2a2a2a" stroke-width="1.0" />
<line x1="160.5" y1="175.5" x2="160.5" y2="195" stroke="#505050" stroke-width="0.9" />
<line x1="172.5" y1="166.1" x2="172.5" y2="209.3" stroke="#2a2a2a" stroke-width="1.0" />
<line x1="167.5" y1="176.5" x2="167.5" y2="195.1" stroke="#505050" stroke-width="0.9" />
<line x1="180.5" y1="165.5" x2="180.5" y2="208.8" stroke="#2a2a2a" stroke-width="1.0" />
<line x1="176.5" y1="176.3" x2="176.5" y2="196.7" stroke="#505050" stroke-width="0.9" />
<line x1="187.5" y1="165.8" x2="187.5" y2="209" stroke="#2a2a2a" stroke-width="1.0" />
<line x1="182.5" y1="175.6" x2="182.5" y2="196.1" stroke="#505050" stroke-width="0.9" />
<line x1="195.5" y1="165.8" x2="195.5" y2="209.5" stroke="#2a2a2a" stroke-width="1.0" />
<line x1="191.5" y1="176.5" x2="191.5" y2="196.6" stroke="#505050" stroke-width="0.9" />
<line x1="202.5" y1="165.6" x2="202.5" y2="209.9" stroke="#2a2a2a" stroke-width="1.0" />
<line x1="197.5" y1="175.3" x2="197.5" y2="195.6" stroke="#505050" stroke-width="0.9" />
<line x1="210.5" y1="165.6" x2="210.5" y2="208.8" stroke="#2a2a2a" stroke-width="1.0" />
<line x1="207.5" y1="173.7" x2="207.5" y2="196.1" stroke="#505050" stroke-width="0.9" />
<line x1="218.5" y1="166.5" x2="218.5" y2="208.9" stroke="#2a2a2a" stroke-width="1.0" />
<line x1="213.5" y1="175.5" x2="213.5" y2="195.9" stroke="#505050" stroke-width="0.9" />
<line x1="225.5" y1="166.1" x2="225.5" y2="209.8" stroke="#2a2a2a" stroke-width="1.0" />
<line x1="220.5" y1="174.6" x2="220.5" y2="195.3" stroke="#505050" stroke-width="0.9" />
<line x1="233.5" y1="165.4" x2="233.5" y2="209.9" stroke="#2a2a2a" stroke-width="1.0" />
<line x1="229.5" y1="175.8" x2="229.5" y2="194.4" stroke="#505050" stroke-width="0.9" />
<line x1="241.5" y1="166.4" x2="241.5" y2="209.7" stroke="#2a2a2a" stroke-width="1.0" />
<line x1="237.5" y1="175.9" x2="237.5" y2="195.8" stroke="#505050" stroke-width="0.9" />
<line x1="250.5" y1="165.6" x2="250.5" y2="208.8" stroke="#2a2a2a" stroke-width="1.0" />
<line x1="245.5" y1="173.8" x2="245.5" y2="195.4" stroke="#505050" stroke-width="0.9" />
<line x1="258.5" y1="166.3" x2="258.5" y2="209.6" stroke="#2a2a2a" stroke-width="1.0" />
<line x1="255.5" y1="175.8" x2="255.5" y2="195.2" stroke="#505050" stroke-width="0.9" />
<line x1="266.5" y1="166" x2="266.5" y2="209.3" stroke="#2a2a2a" stroke-width="1.0" />
<line x1="263.5" y1="175.3" x2="263.5" y2="195.2" stroke="#505050" stroke-width="0.9" />
<line x1="276.5" y1="166.1" x2="276.5" y2="210" stroke="#2a2a2a" stroke-width="1.0" />
<line x1="270.5" y1="176.3" x2="270.5" y2="194.4" stroke="#505050" stroke-width="0.9" />
<line x1="285.5" y1="165.6" x2="285.5" y2="209" stroke="#2a2a2a" stroke-width="1.0" />
<line x1="281.5" y1="176.5" x2="281.5" y2="196.6" stroke="#505050" stroke-width="0.9" />
<line x1="292.5" y1="165.7" x2="292.5" y2="209.8" stroke="#2a2a2a" stroke-width="1.0" />
<line x1="288.5" y1="174.4" x2="288.5" y2="197.1" stroke="#505050" stroke-width="0.9" />
<line x1="302.5" y1="166.1" x2="302.5" y2="209.6" stroke="#2a2a2a" stroke-width="1.0" />
<line x1="297.5" y1="176.6" x2="297.5" y2="195.8" stroke="#505050" stroke-width="0.9" />
<line x1="311.5" y1="166.4" x2="311.5" y2="209.6" stroke="#2a2a2a" stroke-width="1.0" />
<line x1="307.5" y1="175" x2="307.5" y2="196.6" stroke="#505050" stroke-width="0.9" />
<line x1="319.5" y1="166" x2="319.5" y2="209.1" stroke="#2a2a2a" stroke-width="1.0" />
<line x1="314.5" y1="175.6" x2="314.5" y2="194.6" stroke="#505050" stroke-width="0.9" />
<line x1="328.5" y1="166.5" x2="328.5" y2="208.9" stroke="#2a2a2a" stroke-width="1.0" />
<line x1="322.5" y1="174" x2="322.5" y2="197.2" stroke="#505050" stroke-width="0.9" />
<line x1="334.5" y1="165.7" x2="334.5" y2="208.9" stroke="#2a2a2a" stroke-width="1.0" />
<line x1="330.5" y1="173.8" x2="330.5" y2="196.5" stroke="#505050" stroke-width="0.9" />
<line x1="344.5" y1="166.1" x2="344.5" y2="209.6" stroke="#2a2a2a" stroke-width="1.0" />
<line x1="340.5" y1="173.9" x2="340.5" y2="196.2" stroke="#505050" stroke-width="0.9" />
<line x1="354.5" y1="165.8" x2="354.5" y2="209.8" stroke="#2a2a2a" stroke-width="1.0" />
<line x1="350.5" y1="176.4" x2="350.5" y2="194.6" stroke="#505050" stroke-width="0.9" />
<line x1="362.5" y1="166.4" x2="362.5" y2="209.9" stroke="#2a2a2a" stroke-width="1.0" />
<line x1="359.5" y1="174" x2="359.5" y2="195" stroke="#505050" stroke-width="0.9" />
<line x1="372.5" y1="165.4" x2="372.5" y2="208.7" stroke="#2a2a2a" stroke-width="1.0" />
<line x1="368.5" y1="176.1" x2="368.5" y2="196.3" stroke="#505050" stroke-width="0.9" />
<line x1="379.5" y1="166.4" x2="379.5" y2="209.5" stroke="#2a2a2a" stroke-width="1.0" />
<line x1="375.5" y1="174" x2="375.5" y2="194.7" stroke="#505050" stroke-width="0.9" />
<line x1="386.5" y1="166.3" x2="386.5" y2="209" stroke="#2a2a2a" stroke-width="1.0" />
<line x1="382.5" y1="175" x2="382.5" y2="194.5" stroke="#505050" stroke-width="0.9" />
<line x1="393.5" y1="165.6" x2="393.5" y2="209.1" stroke="#2a2a2a" stroke-width="1.0" />
<line x1="390.5" y1="174.8" x2="390.5" y2="195.4" stroke="#505050" stroke-width="0.9" />
<line x1="400.5" y1="166.6" x2="400.5" y2="209.4" stroke="#2a2a2a" stroke-width="1.0" />
<line x1="398.5" y1="175.6" x2="398.5" y2="194.5" stroke="#505050" stroke-width="0.9" />
<line x1="407.5" y1="165.8" x2="407.5" y2="209.3" stroke="#2a2a2a" stroke-width="1.0" />
<line x1="404.5" y1="174.7" x2="404.5" y2="196.5" stroke="#505050" stroke-width="0.9" />
<line x1="412.5" y1="166" x2="412.5" y2="209" stroke="#2a2a2a" stroke-width="1.0" />
<line x1="418.5" y1="165.4" x2="418.5" y2="209.8" stroke="#2a2a2a" stroke-width="1.0" />
<line x1="414.5" y1="173.7" x2="414.5" y2="195" stroke="#505050" stroke-width="0.9" />
<line x1="422.5" y1="166.3" x2="422.5" y2="210" stroke="#2a2a2a" stroke-width="1.0" />
<line x1="419.5" y1="175.2" x2="419.5" y2="195.9" stroke="#505050" stroke-width="0.9" />
<line x1="428.5" y1="166.3" x2="428.5" y2="208.9" stroke="#2a2a2a" stroke-width="1.0" />
<line x1="425.5" y1="174.7" x2="425.5" y2="196.9" stroke="#505050" stroke-width="0.9" />
<line x1="432.5" y1="165.6" x2="432.5" y2="209.9" stroke="#2a2a2a" stroke-width="1.0" />
<line x1="429.5" y1="174.3" x2="429.5" y2="196.5" stroke="#505050" stroke-width="0.9" />
<line x1="437.5" y1="165.9" x2="437.5" y2="208.8" stroke="#2a2a2a" stroke-width="1.0" />
<line x1="435.5" y1="173.9" x2="435.5" y2="196.8" stroke="#505050" stroke-width="0.9" />
<line x1="441.5" y1="166.2" x2="441.5" y2="209.7" stroke="#2a2a2a" stroke-width="1.0" />
<line x1="439.5" y1="174.8" x2="439.5" y2="195.6" stroke="#505050" stroke-width="0.9" />
<line x1="446.5" y1="165.8" x2="446.5" y2="209.9" stroke="#2a2a2a" stroke-width="1.0" />
<line x1="442.5" y1="176.4" x2="442.5" y2="194.5" stroke="#505050" stroke-width="0.9" />
<line x1="450.5" y1="165.6" x2="450.5" y2="209" stroke="#2a2a2a" stroke-width="1.0" />
<line x1="453.5" y1="166.8" x2="453.5" y2="208.6" stroke="#1e1e1e" stroke-width="1.0" />
<line x1="454.5" y1="176" x2="454.5" y2="205.3" stroke="#8a8a8a" stroke-width="1.0" />
<line x1="456.5" y1="166.7" x2="456.5" y2="206.9" stroke="#1e1e1e" stroke-width="1.0" />
<line x1="458.5" y1="178.3" x2="458.5" y2="205.1" stroke="#8a8a8a" stroke-width="1.0" />
<line x1="460.5" y1="168" x2="460.5" y2="207.6" stroke="#1e1e1e" stroke-width="1.0" />
<line x1="462.5" y1="182" x2="462.5" y2="197.6" stroke="#8a8a8a" stroke-width="1.0" />
<line x1="463.5" y1="167.8" x2="463.5" y2="208.4" stroke="#1e1e1e" stroke-width="1.0" />
<line x1="465.5" y1="171.2" x2="465.5" y2="198.9" stroke="#8a8a8a" stroke-width="1.0" />
<line x1="467.5" y1="166.7" x2="467.5" y2="206.5" stroke="#1e1e1e" stroke-width="1.0" />
<line x1="469.5" y1="168.7" x2="469.5" y2="208.4" stroke="#8a8a8a" stroke-width="1.0" />
<line x1="471.5" y1="168.7" x2="471.5" y2="208.3" stroke="#1e1e1e" stroke-width="1.0" />
<line x1="473.5" y1="170.3" x2="473.5" y2="203.6" stroke="#8a8a8a" stroke-width="1.0" />
<line x1="474.5" y1="166.9" x2="474.5" y2="206" stroke="#1e1e1e" stroke-width="1.0" />
<line x1="476.5" y1="178.8" x2="476.5" y2="201.5" stroke="#8a8a8a" stroke-width="1.0" />
<line x1="478.5" y1="166.1" x2="478.5" y2="207.7" stroke="#1e1e1e" stroke-width="1.0" />
<line x1="480.5" y1="182.4" x2="480.5" y2="200.5" stroke="#8a8a8a" stroke-width="1.0" />
<line x1="482.5" y1="167" x2="482.5" y2="206.6" stroke="#666" stroke-width="1.0" />
<line x1="486.5" y1="168.3" x2="486.5" y2="207.9" stroke="#666" stroke-width="1.0" />
<line x1="488.5" y1="172.3" x2="488.5" y2="203.4" stroke="#8a8a8a" stroke-width="1.0" />
<line x1="489.5" y1="168" x2="489.5" y2="208" stroke="#1e1e1e" stroke-width="1.0" />
<line x1="491.5" y1="174.2" x2="491.5" y2="200.8" stroke="#8a8a8a" stroke-width="1.0" />
<line x1="493.5" y1="167.7" x2="493.5" y2="208.7" stroke="#1e1e1e" stroke-width="1.0" />
<line x1="495.5" y1="180.2" x2="495.5" y2="199.8" stroke="#8a8a8a" stroke-width="1.0" />
<line x1="497.5" y1="165.8" x2="497.5" y2="207.5" stroke="#666" stroke-width="1.0" />
<line x1="498.5" y1="183" x2="498.5" y2="201.8" stroke="#8a8a8a" stroke-width="1.0" />
<line x1="500.5" y1="167.3" x2="500.5" y2="208.1" stroke="#1e1e1e" stroke-width="1.0" />
<line x1="502.5" y1="181.1" x2="502.5" y2="201.8" stroke="#8a8a8a" stroke-width="1.0" />
<line x1="504.5" y1="166.3" x2="504.5" y2="208" stroke="#666" stroke-width="1.0" />
<line x1="506.5" y1="169.1" x2="506.5" y2="208.8" stroke="#8a8a8a" stroke-width="1.0" />
<line x1="507.5" y1="166.5" x2="507.5" y2="207.1" stroke="#1e1e1e" stroke-width="1.0" />
<line x1="509.5" y1="174.1" x2="509.5" y2="204.5" stroke="#8a8a8a" stroke-width="1.0" />
<line x1="511.5" y1="166.4" x2="511.5" y2="208.1" stroke="#1e1e1e" stroke-width="1.0" />
<line x1="513.5" y1="170.7" x2="513.5" y2="206" stroke="#8a8a8a" stroke-width="1.0" />
<line x1="515.5" y1="166.1" x2="515.5" y2="208.2" stroke="#1e1e1e" stroke-width="1.0" />
<line x1="517.5" y1="175" x2="517.5" y2="202.4" stroke="#8a8a8a" stroke-width="1.0" />
<line x1="518.5" y1="166.8" x2="518.5" y2="207.8" stroke="#666" stroke-width="1.0" />
<line x1="520.5" y1="175" x2="520.5" y2="198.4" stroke="#8a8a8a" stroke-width="1.0" />
<line x1="522.5" y1="168.2" x2="522.5" y2="207" stroke="#1e1e1e" stroke-width="1.0" />
<line x1="524.5" y1="173.4" x2="524.5" y2="197.8" stroke="#8a8a8a" stroke-width="1.0" />
<line x1="526.5" y1="165.7" x2="526.5" y2="208.1" stroke="#1e1e1e" stroke-width="1.0" />
<line x1="527.5" y1="172.1" x2="527.5" y2="201.2" stroke="#8a8a8a" stroke-width="1.0" />
<line x1="529.5" y1="167.7" x2="529.5" y2="207" stroke="#1e1e1e" stroke-width="1.0" />
<line x1="533.5" y1="168.4" x2="533.5" y2="208.3" stroke="#666" stroke-width="1.0" />
<line x1="534.5" y1="177.8" x2="534.5" y2="194.2" stroke="#8a8a8a" stroke-width="1.0" />
<line x1="536.5" y1="167.7" x2="536.5" y2="206.7" stroke="#666" stroke-width="1.0" />
<line x1="538.5" y1="171" x2="538.5" y2="205.6" stroke="#8a8a8a" stroke-width="1.0" />
<line x1="540.5" y1="168.4" x2="540.5" y2="208.3" stroke="#1e1e1e" stroke-width="1.0" />
<line x1="544.5" y1="167.7" x2="544.5" y2="208.6" stroke="#666" stroke-width="1.0" />
<line x1="546.5" y1="170.4" x2="546.5" y2="204.4" stroke="#8a8a8a" stroke-width="1.0" />
<line x1="547.5" y1="167" x2="547.5" y2="208.5" stroke="#666" stroke-width="1.0" />
<line x1="549.5" y1="171" x2="549.5" y2="196.1" stroke="#8a8a8a" stroke-width="1.0" />
<line x1="551.5" y1="167.1" x2="551.5" y2="206.3" stroke="#1e1e1e" stroke-width="1.0" />
<line x1="553.5" y1="176.2" x2="553.5" y2="206.9" stroke="#8a8a8a" stroke-width="1.0" />
<line x1="555.5" y1="167.1" x2="555.5" y2="207.6" stroke="#666" stroke-width="1.0" />
<line x1="556.5" y1="173.4" x2="556.5" y2="200.3" stroke="#8a8a8a" stroke-width="1.0" />
<line x1="559.5" y1="167.6" x2="559.5" y2="207.8" stroke="#1e1e1e" stroke-width="1.0" />
<line x1="560.5" y1="178.6" x2="560.5" y2="208" stroke="#8a8a8a" stroke-width="1.0" />
<line x1="562.5" y1="167.2" x2="562.5" y2="207.4" stroke="#666" stroke-width="1.0" />
<line x1="564.5" y1="179.2" x2="564.5" y2="203.4" stroke="#8a8a8a" stroke-width="1.0" />
<line x1="566.5" y1="166.8" x2="566.5" y2="207.3" stroke="#666" stroke-width="1.0" />
<line x1="568.5" y1="170.6" x2="568.5" y2="200.5" stroke="#8a8a8a" stroke-width="1.0" />
<line x1="570.5" y1="168.2" x2="570.5" y2="206.8" stroke="#1e1e1e" stroke-width="1.0" />
<line x1="572.5" y1="175.6" x2="572.5" y2="198.1" stroke="#8a8a8a" stroke-width="1.0" />
<line x1="573.5" y1="167.7" x2="573.5" y2="208.3" stroke="#666" stroke-width="1.0" />
<line x1="575.5" y1="172.1" x2="575.5" y2="202.8" stroke="#8a8a8a" stroke-width="1.0" />
<line x1="577.5" y1="165.8" x2="577.5" y2="208.1" stroke="#666" stroke-width="1.0" />
<line x1="579.5" y1="167.8" x2="579.5" y2="198.5" stroke="#8a8a8a" stroke-width="1.0" />
<line x1="581.5" y1="168.5" x2="581.5" y2="207.7" stroke="#1e1e1e" stroke-width="1.0" />
<line x1="582.5" y1="182.5" x2="582.5" y2="203.2" stroke="#8a8a8a" stroke-width="1.0" />
<line x1="584.5" y1="167.8" x2="584.5" y2="207.7" stroke="#1e1e1e" stroke-width="1.0" />
<line x1="586.5" y1="178.3" x2="586.5" y2="200.9" stroke="#8a8a8a" stroke-width="1.0" />
<line x1="588.5" y1="166.2" x2="588.5" y2="206" stroke="#1e1e1e" stroke-width="1.0" />
<line x1="592.5" y1="168.2" x2="592.5" y2="208.3" stroke="#1e1e1e" stroke-width="1.0" />
<line x1="594.5" y1="172.1" x2="594.5" y2="200.3" stroke="#8a8a8a" stroke-width="1.0" />
<line x1="596.5" y1="167.6" x2="596.5" y2="208.7" stroke="#1e1e1e" stroke-width="1.0" />
<line x1="597.5" y1="167.7" x2="597.5" y2="195.8" stroke="#8a8a8a" stroke-width="1.0" />
<line x1="600.5" y1="168.5" x2="600.5" y2="207.2" stroke="#1e1e1e" stroke-width="1.0" />
<line x1="601.5" y1="177.1" x2="601.5" y2="208.1" stroke="#8a8a8a" stroke-width="1.0" />
<line x1="604.5" y1="166.9" x2="604.5" y2="206.2" stroke="#1e1e1e" stroke-width="1.0" />
<line x1="606.5" y1="169.6" x2="606.5" y2="194.2" stroke="#8a8a8a" stroke-width="1.0" />
<line x1="607.5" y1="166.1" x2="607.5" y2="208.8" stroke="#1e1e1e" stroke-width="1.0" />
<line x1="611.5" y1="167.9" x2="611.5" y2="206.6" stroke="#1e1e1e" stroke-width="1.0" />
<line x1="613.5" y1="167.9" x2="613.5" y2="205.6" stroke="#8a8a8a" stroke-width="1.0" />
<line x1="615.5" y1="167.9" x2="615.5" y2="206.2" stroke="#666" stroke-width="1.0" />
<line x1="617.5" y1="174.8" x2="617.5" y2="208" stroke="#8a8a8a" stroke-width="1.0" />
<line x1="618.5" y1="167.9" x2="618.5" y2="205.9" stroke="#666" stroke-width="1.0" />
<line x1="620.5" y1="180.9" x2="620.5" y2="195.2" stroke="#8a8a8a" stroke-width="1.0" />
<line x1="622.5" y1="166.2" x2="622.5" y2="208.5" stroke="#666" stroke-width="1.0" />
<line x1="624.5" y1="173.2" x2="624.5" y2="202.6" stroke="#8a8a8a" stroke-width="1.0" />
<line x1="626.5" y1="166.1" x2="626.5" y2="208.3" stroke="#1e1e1e" stroke-width="1.0" />
<line x1="627.5" y1="177.7" x2="627.5" y2="200.3" stroke="#8a8a8a" stroke-width="1.0" />
<line x1="629.5" y1="168.5" x2="629.5" y2="208.3" stroke="#666" stroke-width="1.0" />
<line x1="631.5" y1="168" x2="631.5" y2="208.6" stroke="#8a8a8a" stroke-width="1.0" />
<line x1="633.5" y1="166.7" x2="633.5" y2="207.7" stroke="#666" stroke-width="1.0" />
<line x1="635.5" y1="177.2" x2="635.5" y2="198.6" stroke="#8a8a8a" stroke-width="1.0" />
<line x1="637.5" y1="166.8" x2="637.5" y2="208" stroke="#666" stroke-width="1.0" />
<line x1="641.5" y1="165.7" x2="641.5" y2="206.7" stroke="#1e1e1e" stroke-width="1.0" />
<line x1="643.5" y1="180.9" x2="643.5" y2="207.3" stroke="#8a8a8a" stroke-width="1.0" />
<line x1="644.5" y1="168.1" x2="644.5" y2="208.5" stroke="#666" stroke-width="1.0" />
<line x1="646.5" y1="181.5" x2="646.5" y2="206.1" stroke="#8a8a8a" stroke-width="1.0" />
<line x1="648.5" y1="166.7" x2="648.5" y2="206.2" stroke="#666" stroke-width="1.0" />
<line x1="650.5" y1="170.4" x2="650.5" y2="205.3" stroke="#8a8a8a" stroke-width="1.0" />
<line x1="652.5" y1="167.5" x2="652.5" y2="207.9" stroke="#1e1e1e" stroke-width="1.0" />
<line x1="654.5" y1="171.3" x2="654.5" y2="205.3" stroke="#8a8a8a" stroke-width="1.0" />
<line x1="656.5" y1="166" x2="656.5" y2="208.3" stroke="#1e1e1e" stroke-width="1.0" />
<line x1="658.5" y1="176.9" x2="658.5" y2="207.5" stroke="#8a8a8a" stroke-width="1.0" />
<line x1="660.5" y1="167.1" x2="660.5" y2="207.7" stroke="#1e1e1e" stroke-width="1.0" />
<line x1="662.5" y1="170.1" x2="662.5" y2="204.5" stroke="#8a8a8a" stroke-width="1.0" />
<line x1="664.5" y1="166.9" x2="664.5" y2="207.5" stroke="#1e1e1e" stroke-width="1.0" />
<line x1="665.5" y1="184" x2="665.5" y2="199.6" stroke="#8a8a8a" stroke-width="1.0" />
<line x1="667.5" y1="168.1" x2="667.5" y2="206.4" stroke="#1e1e1e" stroke-width="1.0" />
<line x1="669.5" y1="175.8" x2="669.5" y2="194.3" stroke="#8a8a8a" stroke-width="1.0" />
<line x1="671.5" y1="168.3" x2="671.5" y2="207.4" stroke="#666" stroke-width="1.0" />
<line x1="673.5" y1="180.2" x2="673.5" y2="200.4" stroke="#8a8a8a" stroke-width="1.0" />
<line x1="675.5" y1="168.2" x2="675.5" y2="208.8" stroke="#666" stroke-width="1.0" />
<line x1="676.5" y1="170.4" x2="676.5" y2="196.7" stroke="#8a8a8a" stroke-width="1.0" />
<line x1="678.5" y1="167.4" x2="678.5" y2="208.5" stroke="#1e1e1e" stroke-width="1.0" />
<line x1="561.5" y1="158" x2="561.5" y2="211" stroke="#333" stroke-width="0.9" />
<line x1="509.5" y1="159" x2="509.5" y2="213" stroke="#555" stroke-width="0.9" />
<rect x="3.7" y="211.8" width="321.3" height="13.6" fill="#139a4a"/>
<text x="98.1" y="222.7" font-size="11.3" fill="#fff" stroke="#fff" stroke-width="0.3" text-anchor="start" >control flight motor pattern</text>
<rect x="453.5" y="211.9" width="227" height="13.7" fill="#2e2a8c"/>
<text x="492.9" y="222.8" font-size="11.3" fill="#fff" stroke="#fff" stroke-width="0.3" text-anchor="start" >increased cholinergic drive</text>
<text x="15" y="235.7" font-size="11.3" fill="#9a9a9a" stroke="#9a9a9a" stroke-width="0.3" text-anchor="start" >Cha:control</text>
<text x="355" y="225.7" font-size="11.3" fill="#888" stroke="#888" stroke-width="0.3" text-anchor="start" >MN5</text>
<text x="387.8" y="228.7" font-size="11.3" fill="#888" stroke="#888" stroke-width="0.3" text-anchor="start" >MN4</text>
<line x1="370.5" y1="228.5" x2="372.8" y2="231.1" stroke="#888" stroke-width="1.3" />
<polygon points="380.5,239.6 368.5,234.9 377.1,227.2" fill="#888"/>
<line x1="398.8" y1="230.5" x2="398.8" y2="235.3" stroke="#888" stroke-width="1.3" />
<polygon points="398.8,245.8 393.1,235.3 404.5,235.3" fill="#888"/>
<polyline points="3,263.6 3.7,264.3 4.4,262.9 5.1,263.6 5.8,263.8 6.5,263.2 7.2,263.8 7.9,263.2 8.6,263.4 9.3,263.6 10,263.7 10.7,263.1 11.4,263.6 12.1,263.5 12.8,262.9 13.5,263.6 14.2,263 14.9,264.1 15.6,263.4 16.3,263.8 17,263.4 17.7,263.4 18.4,262.9 19.1,262.8 19.8,264.2 20.5,263.5 21.2,263.4 21.9,263.4 22.6,264 23.3,262.9 24,262.8 24.7,264 25.4,263.3 26.1,263.7 26.8,264 27.5,264.1 28.2,264.1 28.9,262.6 29.6,263.2 30.3,264 31,264 31.7,262.7 32.4,262.8 33.1,263 33.8,262.7 34.5,263.1 35.2,263.9 35.9,263.4 36.6,263.3 37.3,262.7 38,263.2 38.7,264.3 39.4,263.8 40.1,263.3 40.8,263.4 41.5,263.9 42.2,263.9 42.9,262.8 43.6,263.7 44.3,263.2 45,263.4 45.7,262.9 46.4,263.2 47.1,263.1 47.8,263.2 48.5,262.5 49.2,262.9 49.9,263.5 50.6,262.6 51.3,262.8 52,263.8 52.7,263 53.4,263.1 54.1,262.9 54.8,264 55.5,262.7 56.2,263.6 56.9,264 57.6,262.9 58.3,263.3 59,263.9 59.7,263.6 60.4,263.2 61.1,262.6 61.8,263.3 62.5,263.2 63.2,263.8 63.9,263 64.6,263.2 65.3,263.7 66,264 66.7,263.1 67.4,263.2 68.1,263.5 68.8,264.2 69.5,262.8 70.2,264.2 70.9,263.8 71.6,263.2 72.3,263.7 73,263.1 73.7,262.6 74.4,263.9 75.1,263.2 75.8,263.4 76.5,263.4 77.2,264.1 77.9,263.9 78.6,262.5 79.3,263.6 80,263.3 80.7,263.3 81.4,264 82.1,263.2 82.8,263.4 83.5,264.1 84.2,263.3 84.9,263.4 85.6,263.4 86.3,264 87,263.7 87.7,263.8 88.4,263.2 89.1,262.6 89.8,263.7 90.5,263.5 91.2,263.9 91.9,263.9 92.6,262.7 93.3,262.9 94,262.6 94.7,264 95.4,262.7 96.1,262.7 96.8,263.9 97.5,263.5 98.2,262.6 98.9,263.7 99.6,263.8 100.3,263.4 101,262.6 101.7,263.7 102.4,263.3 103.1,263.6 103.8,264.3 104.5,264 105.2,264.1 105.9,262.8 106.6,263.1 107.3,263.4 108,262.5 108.7,264.3 109.4,263 110.1,263 110.8,263.1 111.5,263 112.2,264 112.9,263.5 113.6,263.4 114.3,263.3 115,262.6 115.7,263 116.4,264.1 117.1,263.9 117.8,264 118.5,263 119.2,262.9 119.9,262.6 120.6,263.5 121.3,263.2 122,263.3 122.7,263.4 123.4,263.6 124.1,263.2 124.8,263.9 125.5,262.9 126.2,264.2 126.9,263.5 127.6,262.6 128.3,263.1 129,263.5 129.7,263.2 130.4,263.5 131.1,263.1 131.8,263 132.5,263.9 133.2,263 133.9,263.8 134.6,263.9 135.3,263.6 136,263.3 136.7,264.2 137.4,263.3 138.1,264.1 138.8,262.6 139.5,263.3 140.2,263.7 140.9,262.6 141.6,264.1 142.3,262.6 143,263.6 143.7,262.8 144.4,264.2 145.1,263.5 145.8,263.9 146.5,263.4 147.2,263.7 147.9,263.7 148.6,263 149.3,262.9 150,264 150.7,262.8 151.4,264.2 152.1,262.9 152.8,262.7 153.5,262.7 154.2,263.9 154.9,264.2 155.6,263.2 156.3,263.7 157,263 157.7,264.1 158.4,263.7 159.1,262.8 159.8,262.6 160.5,263.8 161.2,262.6 161.9,264 162.6,263 163.3,262.9 164,263.5 164.7,263.1 165.4,263.5 166.1,262.8 166.8,264.1 167.5,263.1 168.2,264 168.9,262.8 169.6,263.9 170.3,264.3 171,263.2 171.7,262.6 172.4,263.2 173.1,263.7 173.8,262.9 174.5,263.5 175.2,262.7 175.9,263.3 176.6,263.8 177.3,263.3 178,263.7 178.7,262.7 179.4,264 180.1,262.7 180.8,264.2 181.5,264.3 182.2,264.2 182.9,263.4 183.6,263 184.3,263.1 185,263.9 185.7,263.4 186.4,264.2 187.1,262.7 187.8,263.4 188.5,264.1 189.2,263.6 189.9,263.5 190.6,262.7 191.3,262.8 192,263 192.7,264.1 193.4,264 194.1,262.9 194.8,264.2 195.5,262.6 196.2,263.6 196.9,264.2 197.6,263.1 198.3,264.2 199,263.7 199.7,262.6 200.4,263.1 201.1,263.3 201.8,262.9 202.5,263.8 203.2,262.8 203.9,263.9 204.6,263 205.3,262.6 206,263.5 206.7,262.7 207.4,263.5 208.1,263.9 208.8,263.6 209.5,263.3 210.2,262.6 210.9,263.4 211.6,262.7 212.3,263.7 213,262.7 213.7,263.5 214.4,263.1 215.1,263.2 215.8,263.7 216.5,262.8 217.2,262.8 217.9,264.2 218.6,263.1 219.3,264 220,264.1 220.7,263.4 221.4,262.8 222.1,262.7 222.8,264.1 223.5,262.7 224.2,263.4 224.9,263.5 225.6,262.7 226.3,263.3 227,262.8 227.7,263.5 228.4,263.4 229.1,263.2 229.8,262.9 230.5,263.2 231.2,262.9 231.9,262.7 232.6,262.9 233.3,264.1 234,263.4 234.7,264.1 235.4,262.5 236.1,264.2 236.8,263.4 237.5,263.9 238.2,263.5 238.9,263.7 239.6,262.9 240.3,263.9 241,262.8 241.7,263 242.4,262.6 243.1,263.2 243.8,263.4 244.5,263 245.2,264.1 245.9,262.7 246.6,263.5 247.3,262.9 248,263.6 248.7,263.9 249.4,263.8 250.1,262.6 250.8,262.9 251.5,263.6 252.2,264.3 252.9,262.6 253.6,263.6 254.3,263.7 255,264 255.7,263.1 256.4,264 257.1,263.3 257.8,264.2 258.5,262.5 259.2,264.2 259.9,263.2 260.6,263.2 261.3,262.7 262,262.9 262.7,263.8 263.4,263.7 264.1,262.8 264.8,263.1 265.5,262.8 266.2,262.9 266.9,262.9 267.6,263.1 268.3,264.3 269,264.3 269.7,263.9 270.4,263.4 271.1,263.4 271.8,263.9 272.5,264.1 273.2,263.9 273.9,263.6 274.6,262.9 275.3,263.6 276,264 276.7,263.9 277.4,262.7 278.1,263.8 278.8,263.1 279.5,262.8 280.2,264.2 280.9,263.7 281.6,263.8 282.3,262.7 283,264 283.7,264.2 284.4,264.1 285.1,263.8 285.8,264 286.5,263.9 287.2,263.6 287.9,263.3 288.6,264 289.3,263.9 290,264.1 290.7,263 291.4,264.2 292.1,263.5 292.8,264.2 293.5,262.7 294.2,264.2 294.9,263.9 295.6,263 296.3,264 297,262.9 297.7,262.9 298.4,263.3 299.1,262.9 299.8,263.4 300.5,264.1 301.2,263.7 301.9,263.8 302.6,263.2 303.3,263.9 304,263.9 304.7,263.7 305.4,264.2 306.1,264 306.8,263.2 307.5,262.7 308.2,263.7 308.9,264 309.6,263.1 310.3,263.6 311,264 311.7,263.9 312.4,262.5 313.1,263.4 313.8,262.5 314.5,262.7 315.2,264 315.9,263.3 316.6,263.6 317.3,263.3 318,263.1 318.7,262.9 319.4,263.1 320.1,264 320.8,263.6 321.5,263 322.2,262.7 322.9,263 323.6,263.8 324.3,263.3 325,263.7 325.7,264 326.4,262.7 327.1,263.7 327.8,262.6 328.5,264 329.2,262.8 329.9,263 330.6,264.2 331.3,263.2 332,262.9 332.7,264.1 333.4,263.6 334.1,264.1 334.8,263.2 335.5,263.4 336.2,264.2 336.9,263.4 337.6,264.3 338.3,262.8 339,264 339.7,262.8 340.4,263.4 341.1,262.5 341.8,262.8 342.5,264.2 343.2,263.3 343.9,264 344.6,263 345.3,263.1 346,262.7 346.7,263.5 347.4,264.1 348.1,263.4 348.8,263.2 349.5,264.2 350.2,264.1 350.9,263.7 351.6,262.6 352.3,263.6 353,263.3 353.7,264.2 354.4,263.2 355.1,263.7 355.8,263.6 356.5,263.2 357.2,263.4 357.9,263.7 358.6,264.1 359.3,263.4 360,263.2 360.7,264.3 361.4,262.6 362.1,264 362.8,263.7 363.5,263.5 364.2,263.3 364.9,263.9 365.6,264.1 366.3,263.8 367,263.8 367.7,262.6 368.4,263.1 369.1,262.7 369.8,264.2 370.5,264.1 371.2,262.8 371.9,263.6 372.6,263.5 373.3,262.6 374,263.2 374.7,263.8 375.4,263.7 376.1,263 376.8,263.9 377.5,263 378.2,263.5 378.9,263.3 379.6,264.3 380.3,263.7 381,263.9 381.7,263.7 382.4,263.2 383.1,264.2 383.8,263.8 384.5,263.7 385.2,263 385.9,262.8 386.6,263.5 387.3,264 388,263.9 388.7,263.1 389.4,262.8 390.1,263.4 390.8,264.1 391.5,262.8 392.2,263.8 392.9,262.8 393.6,263.1 394.3,262.6 395,263 395.7,263.2 396.4,264.2 397.1,264.2 397.8,262.8 398.5,263.1 399.2,264.2 399.9,262.9 400.6,263.1 401.3,263.3 402,262.7 402.7,263 403.4,263.2 404.1,263.2 404.8,264.2 405.5,263 406.2,262.9 406.9,264.1 407.6,263.3 408.3,264 409,263.6 409.7,263.9 410.4,263.1 411.1,262.8 411.8,263.9 412.5,263.3 413.2,263.5 413.9,263.7 414.6,263.9 415.3,263 416,263.2 416.7,264.2 417.4,263.5 418.1,263 418.8,263.6 419.5,263 420.2,263.9 420.9,262.6 421.6,264 422.3,263.5 423,263.1 423.7,264.2 424.4,263 425.1,262.9 425.8,262.6 426.5,263.5 427.2,263.9 427.9,263.7 428.6,263.2 429.3,264 430,262.7 430.7,263.1 431.4,263.7 432.1,264.2 432.8,263.6 433.5,263.7 434.2,263.9 434.9,263.2 435.6,264.2 436.3,263.8 437,263.1 437.7,263.2 438.4,264 439.1,263.1 439.8,262.8 440.5,264.1 441.2,263.5 441.9,263.4 442.6,263.7 443.3,264.1 444,262.7 444.7,263.1 445.4,262.6 446.1,263.2 446.8,263.4 447.5,264 448.2,263.7 448.9,263.5 449.6,263.2 450.3,263.5 451,263 451.7,264 452.4,263.9 453.1,264 453.8,262.8 454.5,263.7 455.2,263.9 455.9,263.4 456.6,264.1 457.3,264.1 458,263.8 458.7,264 459.4,263.7 460.1,264.1 460.8,262.7 461.5,263.8 462.2,263.8 462.9,263.6 463.6,263 464.3,262.6 465,263.6 465.7,264 466.4,263 467.1,262.9 467.8,262.9 468.5,262.7 469.2,263.7 469.9,264.3 470.6,263.9 471.3,263.1 472,263.8 472.7,262.6 473.4,264 474.1,263.1 474.8,262.5 475.5,263.6 476.2,262.7 476.9,263 477.6,262.6 478.3,263.3 479,263.5 479.7,264 480.4,262.6 481.1,264 481.8,262.7 482.5,262.9 483.2,263.6 483.9,263.1 484.6,263.1 485.3,263.5 486,262.9 486.7,263.9 487.4,262.9 488.1,264 488.8,264 489.5,263.5 490.2,262.6 490.9,263.9 491.6,262.6 492.3,263.4 493,263.3 493.7,262.6 494.4,263.6 495.1,263.8 495.8,263.6 496.5,263.2 497.2,263.4 497.9,263.6 498.6,262.9 499.3,264.1 500,264.3 500.7,263.9 501.4,264.2 502.1,263.1 502.8,264.3 503.5,262.6 504.2,263.4 504.9,262.7 505.6,263.3 506.3,263.7 507,263.8 507.7,263.3 508.4,263.1 509.1,262.8 509.8,263.2 510.5,263 511.2,262.8 511.9,263.8 512.6,263.4 513.3,263.3 514,262.9 514.7,263.8 515.4,262.9 516.1,263 516.8,263.5 517.5,263.8 518.2,264.3 518.9,263.8 519.6,264.2 520.3,264.2 521,263.8 521.7,263.8 522.4,262.6 523.1,262.9 523.8,262.5 524.5,264.1 525.2,263.8 525.9,263.6 526.6,263 527.3,263.1 528,262.8 528.7,263.6 529.4,264.3 530.1,263.1 530.8,262.6 531.5,262.8 532.2,263.1 532.9,264.1 533.6,263.9 534.3,263.3 535,262.7 535.7,262.7 536.4,262.8 537.1,263.9 537.8,263.3 538.5,264.3 539.2,264.1 539.9,263.9 540.6,263.4 541.3,264 542,262.7 542.7,262.7 543.4,263.5 544.1,263.4 544.8,262.9 545.5,263 546.2,262.5 546.9,264.1 547.6,263.8 548.3,264.2 549,264.3 549.7,263.3 550.4,263.8 551.1,263.2 551.8,264 552.5,264 553.2,262.7 553.9,262.5 554.6,262.9 555.3,263.6 556,263.2 556.7,262.5 557.4,264 558.1,263.9 558.8,263.3 559.5,262.6 560.2,264.1 560.9,263.5 561.6,262.6 562.3,263.1 563,263.6 563.7,264.1 564.4,263.4 565.1,263.7 565.8,262.9 566.5,262.9 567.2,264.1 567.9,263.2 568.6,262.7 569.3,263.6 570,262.7 570.7,262.9 571.4,263.3 572.1,263.6 572.8,263.6 573.5,263.8 574.2,263.3 574.9,262.6 575.6,263.8 576.3,262.6 577,263.3 577.7,263.2 578.4,263.7 579.1,263.8 579.8,262.9 580.5,263.7 581.2,263.7 581.9,263.3 582.6,262.8 583.3,264.1 584,263.6 584.7,262.6 585.4,262.9 586.1,264.3 586.8,262.9 587.5,263.2 588.2,263.9 588.9,264 589.6,263.6 590.3,263.8 591,262.6 591.7,262.7 592.4,264.3 593.1,263.9 593.8,262.6 594.5,262.6 595.2,262.9 595.9,264.2 596.6,262.9 597.3,263.7 598,264.2 598.7,263.6 599.4,264.2 600.1,263 600.8,262.8 601.5,262.5 602.2,263.9 602.9,262.7 603.6,264.3 604.3,263.8 605,262.8 605.7,264 606.4,262.8 607.1,263.4 607.8,262.7 608.5,263.9 609.2,264.1 609.9,264.1 610.6,262.5 611.3,264 612,263.5 612.7,264 613.4,263.4 614.1,263.6 614.8,263.6 615.5,263.9 616.2,262.6 616.9,262.6 617.6,263.5 618.3,263 619,263.2 619.7,262.5 620.4,263.8 621.1,262.5 621.8,264 622.5,264 623.2,263.3 623.9,262.7 624.6,263.7 625.3,262.9 626,263.3 626.7,262.7 627.4,264.3 628.1,263.5 628.8,263.1 629.5,262.7 630.2,263.8 630.9,264 631.6,264 632.3,262.7 633,263.2 633.7,263 634.4,263.9 635.1,262.8 635.8,263.6 636.5,264.3 637.2,263.9 637.9,262.5 638.6,262.6 639.3,262.7 640,263.7 640.7,263.6 641.4,263.4 642.1,263.3 642.8,263.2 643.5,263.6 644.2,263.7 644.9,264.1 645.6,263.8 646.3,263.9 647,264.1 647.7,264 648.4,263.8 649.1,262.6 649.8,263.7 650.5,264 651.2,263.3 651.9,264.1 652.6,262.8 653.3,264.2 654,263.3 654.7,263.8 655.4,263 656.1,263 656.8,263.1 657.5,263.1 658.2,262.7 658.9,263.3 659.6,264.3 660.3,263.7 661,264.2 661.7,263.9 662.4,264 663.1,264.3 663.8,263.9 664.5,263 665.2,262.9 665.9,263.2 666.6,262.5 667.3,262.9 668,264.1 668.7,264.2 669.4,263.1 670.1,263.9 670.8,263.9 671.5,264.1 672.2,263.9 672.9,263.5 673.6,262.7 674.3,264 675,263.1 675.7,263.6 676.4,263.2 677.1,263.5 677.8,264.2 678.5,262.8 679.2,263.5 679.9,263.7" fill="none" stroke="#9a9a9a" stroke-width="2.2" stroke-linejoin="round" stroke-linejoin="miter"/>
<line x1="7.5" y1="239.6" x2="7.5" y2="276.5" stroke="#9a9a9a" stroke-width="1.0" />
<line x1="15.5" y1="240" x2="15.5" y2="277.5" stroke="#9a9a9a" stroke-width="1.0" />
<line x1="25.5" y1="240.2" x2="25.5" y2="276.6" stroke="#9a9a9a" stroke-width="1.0" />
<line x1="35.5" y1="239.9" x2="35.5" y2="276.4" stroke="#9a9a9a" stroke-width="1.0" />
<line x1="44.5" y1="240" x2="44.5" y2="276.2" stroke="#9a9a9a" stroke-width="1.0" />
<line x1="53.5" y1="239.5" x2="53.5" y2="277.3" stroke="#9a9a9a" stroke-width="1.0" />
<line x1="62.5" y1="240.2" x2="62.5" y2="276.7" stroke="#9a9a9a" stroke-width="1.0" />
<line x1="72.5" y1="240.4" x2="72.5" y2="276.5" stroke="#9a9a9a" stroke-width="1.0" />
<line x1="83.5" y1="239.8" x2="83.5" y2="276.1" stroke="#9a9a9a" stroke-width="1.0" />
<line x1="93.5" y1="240" x2="93.5" y2="276.5" stroke="#9a9a9a" stroke-width="1.0" />
<line x1="103.5" y1="240.6" x2="103.5" y2="276.8" stroke="#9a9a9a" stroke-width="1.0" />
<line x1="118.5" y1="240.9" x2="118.5" y2="276.5" stroke="#9a9a9a" stroke-width="1.0" />
<line x1="127.5" y1="240.9" x2="127.5" y2="276.9" stroke="#9a9a9a" stroke-width="1.0" />
<line x1="136.5" y1="239.6" x2="136.5" y2="276.3" stroke="#9a9a9a" stroke-width="1.0" />
<line x1="147.5" y1="240.4" x2="147.5" y2="277.5" stroke="#9a9a9a" stroke-width="1.0" />
<line x1="156.5" y1="240" x2="156.5" y2="277.2" stroke="#9a9a9a" stroke-width="1.0" />
<line x1="165.5" y1="240.1" x2="165.5" y2="277.3" stroke="#9a9a9a" stroke-width="1.0" />
<line x1="177.5" y1="239.6" x2="177.5" y2="276.7" stroke="#9a9a9a" stroke-width="1.0" />
<line x1="191.5" y1="240.8" x2="191.5" y2="276.4" stroke="#9a9a9a" stroke-width="1.0" />
<line x1="200.5" y1="239.9" x2="200.5" y2="276" stroke="#9a9a9a" stroke-width="1.0" />
<line x1="210.5" y1="239.7" x2="210.5" y2="276.4" stroke="#9a9a9a" stroke-width="1.0" />
<line x1="219.5" y1="240.6" x2="219.5" y2="276.3" stroke="#9a9a9a" stroke-width="1.0" />
<line x1="228.5" y1="240.1" x2="228.5" y2="276.3" stroke="#9a9a9a" stroke-width="1.0" />
<line x1="238.5" y1="240.4" x2="238.5" y2="277.3" stroke="#9a9a9a" stroke-width="1.0" />
<line x1="248.5" y1="240.5" x2="248.5" y2="276.3" stroke="#9a9a9a" stroke-width="1.0" />
<line x1="257.5" y1="240.6" x2="257.5" y2="277.4" stroke="#9a9a9a" stroke-width="1.0" />
<line x1="266.5" y1="240.4" x2="266.5" y2="276.1" stroke="#9a9a9a" stroke-width="1.0" />
<line x1="274.5" y1="240.7" x2="274.5" y2="277.3" stroke="#9a9a9a" stroke-width="1.0" />
<line x1="284.5" y1="240" x2="284.5" y2="276.2" stroke="#9a9a9a" stroke-width="1.0" />
<line x1="297.5" y1="239.8" x2="297.5" y2="276.8" stroke="#9a9a9a" stroke-width="1.0" />
<line x1="307.5" y1="240.8" x2="307.5" y2="277" stroke="#9a9a9a" stroke-width="1.0" />
<line x1="318.5" y1="240.9" x2="318.5" y2="276.3" stroke="#9a9a9a" stroke-width="1.0" />
<line x1="329.5" y1="240" x2="329.5" y2="277.1" stroke="#9a9a9a" stroke-width="1.0" />
<line x1="340.5" y1="240.5" x2="340.5" y2="276.6" stroke="#9a9a9a" stroke-width="1.0" />
<line x1="346.5" y1="240.5" x2="346.5" y2="276.5" stroke="#9a9a9a" stroke-width="1.0" />
<line x1="355.5" y1="239.6" x2="355.5" y2="276.6" stroke="#9a9a9a" stroke-width="1.0" />
<line x1="363.5" y1="239.6" x2="363.5" y2="276.9" stroke="#9a9a9a" stroke-width="1.0" />
<line x1="373.5" y1="240" x2="373.5" y2="276.7" stroke="#9a9a9a" stroke-width="1.0" />
<line x1="382.5" y1="240.4" x2="382.5" y2="276.4" stroke="#9a9a9a" stroke-width="1.0" />
<line x1="392.5" y1="240.2" x2="392.5" y2="276" stroke="#9a9a9a" stroke-width="1.0" />
<line x1="403.5" y1="240.9" x2="403.5" y2="276.8" stroke="#9a9a9a" stroke-width="1.0" />
<line x1="414.5" y1="241" x2="414.5" y2="276.1" stroke="#9a9a9a" stroke-width="1.0" />
<line x1="425.5" y1="240.4" x2="425.5" y2="277.1" stroke="#9a9a9a" stroke-width="1.0" />
<line x1="436.5" y1="240" x2="436.5" y2="276.1" stroke="#9a9a9a" stroke-width="1.0" />
<line x1="447.5" y1="239.7" x2="447.5" y2="276.2" stroke="#9a9a9a" stroke-width="1.0" />
<line x1="457.5" y1="240.7" x2="457.5" y2="276.1" stroke="#9a9a9a" stroke-width="1.0" />
<line x1="471.5" y1="240.7" x2="471.5" y2="276.6" stroke="#9a9a9a" stroke-width="1.0" />
<line x1="480.5" y1="240.3" x2="480.5" y2="276.9" stroke="#9a9a9a" stroke-width="1.0" />
<line x1="491.5" y1="240.3" x2="491.5" y2="277" stroke="#9a9a9a" stroke-width="1.0" />
<line x1="503.5" y1="240.4" x2="503.5" y2="276.5" stroke="#9a9a9a" stroke-width="1.0" />
<line x1="513.5" y1="240.6" x2="513.5" y2="276.4" stroke="#9a9a9a" stroke-width="1.0" />
<line x1="523.5" y1="240.6" x2="523.5" y2="277.1" stroke="#9a9a9a" stroke-width="1.0" />
<line x1="531.5" y1="240.7" x2="531.5" y2="276.5" stroke="#9a9a9a" stroke-width="1.0" />
<line x1="539.5" y1="240.7" x2="539.5" y2="277.5" stroke="#9a9a9a" stroke-width="1.0" />
<line x1="547.5" y1="240.2" x2="547.5" y2="276.4" stroke="#9a9a9a" stroke-width="1.0" />
<line x1="556.5" y1="240.3" x2="556.5" y2="277.4" stroke="#9a9a9a" stroke-width="1.0" />
<line x1="564.5" y1="239.7" x2="564.5" y2="276" stroke="#9a9a9a" stroke-width="1.0" />
<line x1="573.5" y1="240.2" x2="573.5" y2="277" stroke="#9a9a9a" stroke-width="1.0" />
<line x1="582.5" y1="240.7" x2="582.5" y2="276.5" stroke="#9a9a9a" stroke-width="1.0" />
<line x1="590.5" y1="241" x2="590.5" y2="276.3" stroke="#9a9a9a" stroke-width="1.0" />
<line x1="599.5" y1="240.6" x2="599.5" y2="276.1" stroke="#9a9a9a" stroke-width="1.0" />
<line x1="607.5" y1="239.5" x2="607.5" y2="276.2" stroke="#9a9a9a" stroke-width="1.0" />
<line x1="616.5" y1="239.6" x2="616.5" y2="276.8" stroke="#9a9a9a" stroke-width="1.0" />
<line x1="625.5" y1="240.3" x2="625.5" y2="276.3" stroke="#9a9a9a" stroke-width="1.0" />
<line x1="633.5" y1="240.9" x2="633.5" y2="276.5" stroke="#9a9a9a" stroke-width="1.0" />
<line x1="642.5" y1="239.7" x2="642.5" y2="276.3" stroke="#9a9a9a" stroke-width="1.0" />
<line x1="649.5" y1="240.6" x2="649.5" y2="277.4" stroke="#9a9a9a" stroke-width="1.0" />
<line x1="658.5" y1="239.7" x2="658.5" y2="276" stroke="#9a9a9a" stroke-width="1.0" />
<line x1="666.5" y1="240.7" x2="666.5" y2="276.4" stroke="#9a9a9a" stroke-width="1.0" />
<line x1="674.5" y1="241" x2="674.5" y2="276.7" stroke="#9a9a9a" stroke-width="1.0" />
<line x1="9.5" y1="253.4" x2="9.5" y2="270" stroke="#a8a8a8" stroke-width="0.9" />
<line x1="22.5" y1="253.9" x2="22.5" y2="270.4" stroke="#a8a8a8" stroke-width="0.9" />
<line x1="29.5" y1="252.5" x2="29.5" y2="271.7" stroke="#a8a8a8" stroke-width="0.9" />
<line x1="47.5" y1="251.8" x2="47.5" y2="271.2" stroke="#a8a8a8" stroke-width="0.9" />
<line x1="58.5" y1="251.7" x2="58.5" y2="270.9" stroke="#a8a8a8" stroke-width="0.9" />
<line x1="67.5" y1="252.7" x2="67.5" y2="271.6" stroke="#a8a8a8" stroke-width="0.9" />
<line x1="78.5" y1="251.7" x2="78.5" y2="270.7" stroke="#a8a8a8" stroke-width="0.9" />
<line x1="89.5" y1="252.7" x2="89.5" y2="271.8" stroke="#a8a8a8" stroke-width="0.9" />
<line x1="99.5" y1="254.3" x2="99.5" y2="270.9" stroke="#a8a8a8" stroke-width="0.9" />
<line x1="122.5" y1="252.2" x2="122.5" y2="269.8" stroke="#a8a8a8" stroke-width="0.9" />
<line x1="132.5" y1="252.3" x2="132.5" y2="270.3" stroke="#a8a8a8" stroke-width="0.9" />
<line x1="142.5" y1="252.2" x2="142.5" y2="269.6" stroke="#a8a8a8" stroke-width="0.9" />
<line x1="151.5" y1="253.8" x2="151.5" y2="270.9" stroke="#a8a8a8" stroke-width="0.9" />
<line x1="161.5" y1="252.4" x2="161.5" y2="272" stroke="#a8a8a8" stroke-width="0.9" />
<line x1="173.5" y1="252.1" x2="173.5" y2="270.7" stroke="#a8a8a8" stroke-width="0.9" />
<line x1="186.5" y1="252" x2="186.5" y2="271.6" stroke="#a8a8a8" stroke-width="0.9" />
<line x1="196.5" y1="254.1" x2="196.5" y2="269.8" stroke="#a8a8a8" stroke-width="0.9" />
<line x1="206.5" y1="253.8" x2="206.5" y2="271.5" stroke="#a8a8a8" stroke-width="0.9" />
<line x1="216.5" y1="252.3" x2="216.5" y2="270" stroke="#a8a8a8" stroke-width="0.9" />
<line x1="230.5" y1="253" x2="230.5" y2="271.7" stroke="#a8a8a8" stroke-width="0.9" />
<line x1="242.5" y1="252" x2="242.5" y2="271" stroke="#a8a8a8" stroke-width="0.9" />
<line x1="254.5" y1="253.3" x2="254.5" y2="270.4" stroke="#a8a8a8" stroke-width="0.9" />
<line x1="268.5" y1="253.2" x2="268.5" y2="271.6" stroke="#a8a8a8" stroke-width="0.9" />
<line x1="280.5" y1="252.1" x2="280.5" y2="271.7" stroke="#a8a8a8" stroke-width="0.9" />
<line x1="293.5" y1="252.6" x2="293.5" y2="271.3" stroke="#a8a8a8" stroke-width="0.9" />
<line x1="302.5" y1="254.1" x2="302.5" y2="269.5" stroke="#a8a8a8" stroke-width="0.9" />
<line x1="312.5" y1="254.1" x2="312.5" y2="272" stroke="#a8a8a8" stroke-width="0.9" />
<line x1="325.5" y1="252.4" x2="325.5" y2="269.1" stroke="#a8a8a8" stroke-width="0.9" />
<line x1="335.5" y1="251.8" x2="335.5" y2="271.9" stroke="#a8a8a8" stroke-width="0.9" />
<line x1="350.5" y1="251.5" x2="350.5" y2="271.7" stroke="#a8a8a8" stroke-width="0.9" />
<line x1="359.5" y1="252" x2="359.5" y2="271.2" stroke="#a8a8a8" stroke-width="0.9" />
<line x1="368.5" y1="251.8" x2="368.5" y2="269.5" stroke="#a8a8a8" stroke-width="0.9" />
<line x1="378.5" y1="253.5" x2="378.5" y2="269.3" stroke="#a8a8a8" stroke-width="0.9" />
<line x1="387.5" y1="252.5" x2="387.5" y2="271.8" stroke="#a8a8a8" stroke-width="0.9" />
<line x1="398.5" y1="253.6" x2="398.5" y2="271.6" stroke="#a8a8a8" stroke-width="0.9" />
<line x1="410.5" y1="254.4" x2="410.5" y2="269.1" stroke="#a8a8a8" stroke-width="0.9" />
<line x1="421.5" y1="252.2" x2="421.5" y2="271.4" stroke="#a8a8a8" stroke-width="0.9" />
<line x1="432.5" y1="253.6" x2="432.5" y2="269.1" stroke="#a8a8a8" stroke-width="0.9" />
<line x1="443.5" y1="253" x2="443.5" y2="269.7" stroke="#a8a8a8" stroke-width="0.9" />
<line x1="453.5" y1="252.8" x2="453.5" y2="269.3" stroke="#a8a8a8" stroke-width="0.9" />
<line x1="463.5" y1="254.5" x2="463.5" y2="269.9" stroke="#a8a8a8" stroke-width="0.9" />
<line x1="476.5" y1="251.9" x2="476.5" y2="270.5" stroke="#a8a8a8" stroke-width="0.9" />
<line x1="485.5" y1="252.8" x2="485.5" y2="269.5" stroke="#a8a8a8" stroke-width="0.9" />
<line x1="497.5" y1="251.9" x2="497.5" y2="271.2" stroke="#a8a8a8" stroke-width="0.9" />
<line x1="508.5" y1="251.8" x2="508.5" y2="270.1" stroke="#a8a8a8" stroke-width="0.9" />
<line x1="518.5" y1="254.3" x2="518.5" y2="270" stroke="#a8a8a8" stroke-width="0.9" />
<line x1="527.5" y1="254.4" x2="527.5" y2="271.6" stroke="#a8a8a8" stroke-width="0.9" />
<line x1="536.5" y1="252.3" x2="536.5" y2="269.5" stroke="#a8a8a8" stroke-width="0.9" />
<line x1="543.5" y1="251.7" x2="543.5" y2="269.1" stroke="#a8a8a8" stroke-width="0.9" />
<line x1="552.5" y1="252.7" x2="552.5" y2="270.7" stroke="#a8a8a8" stroke-width="0.9" />
<line x1="560.5" y1="251.5" x2="560.5" y2="271.1" stroke="#a8a8a8" stroke-width="0.9" />
<line x1="569.5" y1="253.1" x2="569.5" y2="270.6" stroke="#a8a8a8" stroke-width="0.9" />
<line x1="578.5" y1="254.4" x2="578.5" y2="271.6" stroke="#a8a8a8" stroke-width="0.9" />
<line x1="586.5" y1="252.7" x2="586.5" y2="270" stroke="#a8a8a8" stroke-width="0.9" />
<line x1="594.5" y1="254.4" x2="594.5" y2="270.2" stroke="#a8a8a8" stroke-width="0.9" />
<line x1="603.5" y1="252.7" x2="603.5" y2="269.4" stroke="#a8a8a8" stroke-width="0.9" />
<line x1="613.5" y1="251.5" x2="613.5" y2="270.8" stroke="#a8a8a8" stroke-width="0.9" />
<line x1="621.5" y1="252.3" x2="621.5" y2="270.8" stroke="#a8a8a8" stroke-width="0.9" />
<line x1="629.5" y1="252.2" x2="629.5" y2="269.6" stroke="#a8a8a8" stroke-width="0.9" />
<line x1="637.5" y1="254" x2="637.5" y2="271.4" stroke="#a8a8a8" stroke-width="0.9" />
<line x1="646.5" y1="251.6" x2="646.5" y2="271.1" stroke="#a8a8a8" stroke-width="0.9" />
<line x1="653.5" y1="253.4" x2="653.5" y2="270.6" stroke="#a8a8a8" stroke-width="0.9" />
<line x1="661.5" y1="254.4" x2="661.5" y2="269" stroke="#a8a8a8" stroke-width="0.9" />
<line x1="670.5" y1="254.1" x2="670.5" y2="270.5" stroke="#a8a8a8" stroke-width="0.9" />
<line x1="110.5" y1="232" x2="110.5" y2="280.5" stroke="#9a9a9a" stroke-width="1.0" />
<rect x="3.7" y="282.4" width="321.3" height="13.4" fill="#139a4a"/>
<text x="98.1" y="293.2" font-size="11.3" fill="#fff" stroke="#fff" stroke-width="0.3" text-anchor="start" >control flight motor pattern</text>
<rect x="453.5" y="281.7" width="227" height="13.8" fill="#2e2a8c"/>
<text x="492.9" y="293" font-size="11.3" fill="#fff" stroke="#fff" stroke-width="0.3" text-anchor="start" >increased cholinergic drive</text>
<text x="3.6" y="317.2" font-size="17.5" fill="#222" text-anchor="start" font-weight="bold" >ai</text>
<text x="89.1" y="316.9" font-size="11.3" fill="#1c1c1c" stroke="#1c1c1c" stroke-width="0.3" text-anchor="middle" >MN4</text>
<text x="178.1" y="316.9" font-size="11.3" fill="#1c1c1c" stroke="#1c1c1c" stroke-width="0.3" text-anchor="middle" >MN5</text>
<text x="261" y="317.2" font-size="11.3" fill="#1c1c1c" stroke="#1c1c1c" stroke-width="0.3" text-anchor="middle" >MN4</text>
<text x="304.3" y="317.2" font-size="11.3" fill="#1c1c1c" stroke="#1c1c1c" stroke-width="0.3" text-anchor="middle" >MN5</text>
<line x1="45.5" y1="321.8" x2="339" y2="321.8" stroke="#111" stroke-width="2" />
<line x1="49" y1="321.8" x2="49" y2="533" stroke="#111" stroke-width="2" />
<line x1="48" y1="532" x2="339.4" y2="532" stroke="#111" stroke-width="2" />
<line x1="338.4" y1="320.8" x2="338.4" y2="533" stroke="#111" stroke-width="2" />
<line x1="234.6" y1="321.8" x2="234.6" y2="532.5" stroke="#111" stroke-width="1.6" />
<line x1="40.5" y1="336.5" x2="49" y2="336.5" stroke="#111" stroke-width="2" />
<text x="34.6" y="341.6" font-size="11.3" fill="#1c1c1c" stroke="#1c1c1c" stroke-width="0.3" text-anchor="end" >10</text>
<line x1="40.5" y1="385.5" x2="49" y2="385.5" stroke="#111" stroke-width="2" />
<text x="36.2" y="390.6" font-size="11.3" fill="#1c1c1c" stroke="#1c1c1c" stroke-width="0.3" text-anchor="end" >8</text>
<line x1="40.5" y1="434.5" x2="49" y2="434.5" stroke="#111" stroke-width="2" />
<text x="36.2" y="439.6" font-size="11.3" fill="#1c1c1c" stroke="#1c1c1c" stroke-width="0.3" text-anchor="end" >6</text>
<line x1="40.5" y1="483.5" x2="49" y2="483.5" stroke="#111" stroke-width="2" />
<text x="36.2" y="488.6" font-size="11.3" fill="#1c1c1c" stroke="#1c1c1c" stroke-width="0.3" text-anchor="end" >4</text>
<line x1="40.5" y1="532.5" x2="49" y2="532.5" stroke="#111" stroke-width="2" />
<text x="36.2" y="537.6" font-size="11.3" fill="#1c1c1c" stroke="#1c1c1c" stroke-width="0.3" text-anchor="end" >2</text>
<line x1="338.4" y1="338.6" x2="346.8" y2="338.6" stroke="#111" stroke-width="2" />
<text x="350" y="342.6" font-size="11.3" fill="#1c1c1c" stroke="#1c1c1c" stroke-width="0.3" text-anchor="start" >6</text>
<line x1="338.4" y1="387.6" x2="346.8" y2="387.6" stroke="#111" stroke-width="2" />
<text x="350" y="391.6" font-size="11.3" fill="#1c1c1c" stroke="#1c1c1c" stroke-width="0.3" text-anchor="start" >4</text>
<line x1="338.4" y1="436.6" x2="346.8" y2="436.6" stroke="#111" stroke-width="2" />
<text x="350" y="440.6" font-size="11.3" fill="#1c1c1c" stroke="#1c1c1c" stroke-width="0.3" text-anchor="start" >2</text>
<line x1="338.4" y1="485.6" x2="346.8" y2="485.6" stroke="#111" stroke-width="2" />
<text x="350" y="489.6" font-size="11.3" fill="#1c1c1c" stroke="#1c1c1c" stroke-width="0.3" text-anchor="start" >0</text>
<text x="0" y="0" font-size="11.3" fill="#1c1c1c" stroke="#1c1c1c" stroke-width="0.3" text-anchor="middle" transform="translate(18.7,437) rotate(-90)">MN firing frequency [Hz]</text>
<text x="0" y="0" font-size="11.3" fill="#1c1c1c" stroke="#1c1c1c" stroke-width="0.3" text-anchor="middle" transform="translate(374,423.6) rotate(-90)">mean difference [Hz]</text>
<line x1="141" y1="377.6" x2="141" y2="532" stroke="#333" stroke-width="1.3" stroke-dasharray="1.2 1.3"/>
<circle cx="60.8" cy="330.6" r="3.15" fill="#1b8f4c" stroke="#0e5a2e" stroke-width="0.9"/>
<text x="69.6" y="335.4" font-size="11.3" fill="#1c1c1c" stroke="#1c1c1c" stroke-width="0.3" text-anchor="start" >Cha:ChR light off</text>
<circle cx="60.8" cy="342.3" r="3.15" fill="#3b3889" stroke="#25235f" stroke-width="0.9"/>
<text x="69.6" y="346.6" font-size="11.3" fill="#1c1c1c" stroke="#1c1c1c" stroke-width="0.3" text-anchor="start" >Cha:ChR light on</text>
<circle cx="60.8" cy="353.9" r="3.15" fill="#8c8c8c" stroke="#6a6a6a" stroke-width="0.9"/>
<text x="69.6" y="357.4" font-size="11.3" fill="#1c1c1c" stroke="#1c1c1c" stroke-width="0.3" text-anchor="start" >control light off</text>
<circle cx="60.8" cy="365.6" r="3.05" fill="#9a9ae0" stroke="#2222d4" stroke-width="1.9"/>
<text x="69.6" y="368.9" font-size="11.3" fill="#1c1c1c" stroke="#1c1c1c" stroke-width="0.3" text-anchor="start" >control light on</text>
<line x1="74.8" y1="460.9" x2="113.8" y2="459.8" stroke="#999" stroke-width="1.3" />
<line x1="74.8" y1="485.2" x2="113.8" y2="485.7" stroke="#999" stroke-width="1.3" />
<line x1="74.8" y1="513" x2="113.8" y2="513" stroke="#999" stroke-width="1.3" />
<line x1="74.8" y1="449.8" x2="113.8" y2="378.9" stroke="#111" stroke-width="1.25" />
<line x1="74.8" y1="453.8" x2="113.8" y2="382.9" stroke="#111" stroke-width="1.25" />
<line x1="74.8" y1="457" x2="113.8" y2="386" stroke="#111" stroke-width="1.25" />
<line x1="74.8" y1="474.2" x2="113.8" y2="429.4" stroke="#111" stroke-width="1.25" />
<line x1="74.8" y1="482.6" x2="113.8" y2="389.5" stroke="#111" stroke-width="1.25" />
<line x1="74.8" y1="486" x2="113.8" y2="436" stroke="#111" stroke-width="1.25" />
<line x1="74.8" y1="488.6" x2="113.8" y2="416.5" stroke="#111" stroke-width="1.25" />
<line x1="74.8" y1="491.5" x2="113.8" y2="440.5" stroke="#111" stroke-width="1.25" />
<line x1="74.8" y1="497.4" x2="113.8" y2="438" stroke="#111" stroke-width="1.25" />
<line x1="74.8" y1="501.9" x2="113.8" y2="466.9" stroke="#111" stroke-width="1.25" />
<line x1="74.8" y1="518.9" x2="113.8" y2="433" stroke="#111" stroke-width="1.25" />
<circle cx="74.8" cy="449.8" r="3.15" fill="#1b8f4c" stroke="#0e5a2e" stroke-width="0.9"/>
<circle cx="74.8" cy="453.8" r="3.15" fill="#1b8f4c" stroke="#0e5a2e" stroke-width="0.9"/>
<circle cx="74.8" cy="457" r="3.15" fill="#1b8f4c" stroke="#0e5a2e" stroke-width="0.9"/>
<circle cx="74.8" cy="474.2" r="3.15" fill="#1b8f4c" stroke="#0e5a2e" stroke-width="0.9"/>
<circle cx="74.8" cy="482.6" r="3.15" fill="#1b8f4c" stroke="#0e5a2e" stroke-width="0.9"/>
<circle cx="74.8" cy="486" r="3.15" fill="#1b8f4c" stroke="#0e5a2e" stroke-width="0.9"/>
<circle cx="74.8" cy="488.6" r="3.15" fill="#1b8f4c" stroke="#0e5a2e" stroke-width="0.9"/>
<circle cx="74.8" cy="491.5" r="3.15" fill="#1b8f4c" stroke="#0e5a2e" stroke-width="0.9"/>
<circle cx="74.8" cy="497.4" r="3.15" fill="#1b8f4c" stroke="#0e5a2e" stroke-width="0.9"/>
<circle cx="74.8" cy="501.9" r="3.15" fill="#1b8f4c" stroke="#0e5a2e" stroke-width="0.9"/>
<circle cx="74.8" cy="518.9" r="3.15" fill="#1b8f4c" stroke="#0e5a2e" stroke-width="0.9"/>
<circle cx="113.8" cy="378.9" r="3.15" fill="#3b3889" stroke="#25235f" stroke-width="0.9"/>
<circle cx="113.8" cy="382.9" r="3.15" fill="#3b3889" stroke="#25235f" stroke-width="0.9"/>
<circle cx="113.8" cy="386" r="3.15" fill="#3b3889" stroke="#25235f" stroke-width="0.9"/>
<circle cx="113.8" cy="429.4" r="3.15" fill="#3b3889" stroke="#25235f" stroke-width="0.9"/>
<circle cx="113.8" cy="389.5" r="3.15" fill="#3b3889" stroke="#25235f" stroke-width="0.9"/>
<circle cx="113.8" cy="436" r="3.15" fill="#3b3889" stroke="#25235f" stroke-width="0.9"/>
<circle cx="113.8" cy="416.5" r="3.15" fill="#3b3889" stroke="#25235f" stroke-width="0.9"/>
<circle cx="113.8" cy="440.5" r="3.15" fill="#3b3889" stroke="#25235f" stroke-width="0.9"/>
<circle cx="113.8" cy="438" r="3.15" fill="#3b3889" stroke="#25235f" stroke-width="0.9"/>
<circle cx="113.8" cy="466.9" r="3.15" fill="#3b3889" stroke="#25235f" stroke-width="0.9"/>
<circle cx="113.8" cy="433" r="3.15" fill="#3b3889" stroke="#25235f" stroke-width="0.9"/>
<circle cx="74.8" cy="460.9" r="3.15" fill="#8c8c8c" stroke="#6a6a6a" stroke-width="0.9"/>
<circle cx="113.8" cy="459.8" r="3.05" fill="#9a9ae0" stroke="#2222d4" stroke-width="1.9"/>
<circle cx="74.8" cy="485.2" r="3.15" fill="#8c8c8c" stroke="#6a6a6a" stroke-width="0.9"/>
<circle cx="113.8" cy="485.7" r="3.05" fill="#9a9ae0" stroke="#2222d4" stroke-width="1.9"/>
<circle cx="74.8" cy="513" r="3.15" fill="#8c8c8c" stroke="#6a6a6a" stroke-width="0.9"/>
<circle cx="113.8" cy="513" r="3.05" fill="#9a9ae0" stroke="#2222d4" stroke-width="1.9"/>
<line x1="164" y1="457.4" x2="203.2" y2="457.4" stroke="#999" stroke-width="1.3" />
<line x1="164" y1="486.3" x2="203.2" y2="487.2" stroke="#999" stroke-width="1.3" />
<line x1="164" y1="509" x2="203.2" y2="509.5" stroke="#999" stroke-width="1.3" />
<line x1="164" y1="452.7" x2="203.2" y2="372.9" stroke="#111" stroke-width="1.25" />
<line x1="164" y1="455" x2="203.2" y2="379.2" stroke="#111" stroke-width="1.25" />
<line x1="164" y1="457" x2="203.2" y2="385.8" stroke="#111" stroke-width="1.25" />
<line x1="164" y1="459.7" x2="203.2" y2="404.1" stroke="#111" stroke-width="1.25" />
<line x1="164" y1="470.3" x2="203.2" y2="392.4" stroke="#111" stroke-width="1.25" />
<line x1="164" y1="476.2" x2="203.2" y2="422.9" stroke="#111" stroke-width="1.25" />
<line x1="164" y1="479.7" x2="203.2" y2="408.8" stroke="#111" stroke-width="1.25" />
<line x1="164" y1="481.6" x2="203.2" y2="417.5" stroke="#111" stroke-width="1.25" />
<line x1="164" y1="493.3" x2="203.2" y2="434.6" stroke="#111" stroke-width="1.25" />
<line x1="164" y1="502" x2="203.2" y2="455" stroke="#111" stroke-width="1.25" />
<line x1="164" y1="513.7" x2="203.2" y2="428.5" stroke="#111" stroke-width="1.25" />
<circle cx="164" cy="452.7" r="3.15" fill="#1b8f4c" stroke="#0e5a2e" stroke-width="0.9"/>
<circle cx="164" cy="455" r="3.15" fill="#1b8f4c" stroke="#0e5a2e" stroke-width="0.9"/>
<circle cx="164" cy="457" r="3.15" fill="#1b8f4c" stroke="#0e5a2e" stroke-width="0.9"/>
<circle cx="164" cy="459.7" r="3.15" fill="#1b8f4c" stroke="#0e5a2e" stroke-width="0.9"/>
<circle cx="164" cy="470.3" r="3.15" fill="#1b8f4c" stroke="#0e5a2e" stroke-width="0.9"/>
<circle cx="164" cy="476.2" r="3.15" fill="#1b8f4c" stroke="#0e5a2e" stroke-width="0.9"/>
<circle cx="164" cy="479.7" r="3.15" fill="#1b8f4c" stroke="#0e5a2e" stroke-width="0.9"/>
<circle cx="164" cy="481.6" r="3.15" fill="#1b8f4c" stroke="#0e5a2e" stroke-width="0.9"/>
<circle cx="164" cy="493.3" r="3.15" fill="#1b8f4c" stroke="#0e5a2e" stroke-width="0.9"/>
<circle cx="164" cy="502" r="3.15" fill="#1b8f4c" stroke="#0e5a2e" stroke-width="0.9"/>
<circle cx="164" cy="513.7" r="3.15" fill="#1b8f4c" stroke="#0e5a2e" stroke-width="0.9"/>
<circle cx="203.2" cy="372.9" r="3.15" fill="#3b3889" stroke="#25235f" stroke-width="0.9"/>
<circle cx="203.2" cy="379.2" r="3.15" fill="#3b3889" stroke="#25235f" stroke-width="0.9"/>
<circle cx="203.2" cy="385.8" r="3.15" fill="#3b3889" stroke="#25235f" stroke-width="0.9"/>
<circle cx="203.2" cy="404.1" r="3.15" fill="#3b3889" stroke="#25235f" stroke-width="0.9"/>
<circle cx="203.2" cy="392.4" r="3.15" fill="#3b3889" stroke="#25235f" stroke-width="0.9"/>
<circle cx="203.2" cy="422.9" r="3.15" fill="#3b3889" stroke="#25235f" stroke-width="0.9"/>
<circle cx="203.2" cy="408.8" r="3.15" fill="#3b3889" stroke="#25235f" stroke-width="0.9"/>
<circle cx="203.2" cy="417.5" r="3.15" fill="#3b3889" stroke="#25235f" stroke-width="0.9"/>
<circle cx="203.2" cy="434.6" r="3.15" fill="#3b3889" stroke="#25235f" stroke-width="0.9"/>
<circle cx="203.2" cy="455" r="3.15" fill="#3b3889" stroke="#25235f" stroke-width="0.9"/>
<circle cx="203.2" cy="428.5" r="3.15" fill="#3b3889" stroke="#25235f" stroke-width="0.9"/>
<circle cx="164" cy="457.4" r="3.15" fill="#8c8c8c" stroke="#6a6a6a" stroke-width="0.9"/>
<circle cx="203.2" cy="457.4" r="3.05" fill="#9a9ae0" stroke="#2222d4" stroke-width="1.9"/>
<circle cx="164" cy="486.3" r="3.15" fill="#8c8c8c" stroke="#6a6a6a" stroke-width="0.9"/>
<circle cx="203.2" cy="487.2" r="3.05" fill="#9a9ae0" stroke="#2222d4" stroke-width="1.9"/>
<circle cx="164" cy="509" r="3.15" fill="#8c8c8c" stroke="#6a6a6a" stroke-width="0.9"/>
<circle cx="203.2" cy="509.5" r="3.05" fill="#9a9ae0" stroke="#2222d4" stroke-width="1.9"/>
<circle cx="242.5" cy="332.9" r="3.4000000000000004" fill="#000"/>
<text x="247.8" y="337.7" font-size="11.3" fill="#1c1c1c" stroke="#1c1c1c" stroke-width="0.3" text-anchor="start" >ΔF Cha:ChR</text>
<circle cx="242.5" cy="348.2" r="3.2" fill="#8e8e8e"/>
<text x="247.8" y="351.9" font-size="11.3" fill="#1c1c1c" stroke="#1c1c1c" stroke-width="0.3" text-anchor="start" >ΔF Cha:control</text>
<circle cx="266.5" cy="372.2" r="3.35" fill="#000"/>
<circle cx="276.8" cy="396.4" r="3.35" fill="#000"/>
<circle cx="266.5" cy="401.8" r="3.35" fill="#000"/>
<circle cx="266.5" cy="411.2" r="3.35" fill="#000"/>
<circle cx="256.4" cy="419.8" r="3.35" fill="#000"/>
<circle cx="266.5" cy="417.5" r="3.35" fill="#000"/>
<circle cx="276.8" cy="418.2" r="3.35" fill="#000"/>
<circle cx="271.2" cy="427.6" r="3.35" fill="#000"/>
<circle cx="261.6" cy="432.3" r="3.35" fill="#000"/>
<circle cx="261.6" cy="450.4" r="3.35" fill="#000"/>
<circle cx="271.7" cy="447.5" r="3.35" fill="#000"/>
<circle cx="309.5" cy="385.8" r="3.35" fill="#000"/>
<circle cx="319.8" cy="392.4" r="3.35" fill="#000"/>
<circle cx="309.5" cy="395.2" r="3.35" fill="#000"/>
<circle cx="319.8" cy="412.8" r="3.35" fill="#000"/>
<circle cx="299.1" cy="417" r="3.35" fill="#000"/>
<circle cx="309.5" cy="416.3" r="3.35" fill="#000"/>
<circle cx="319.8" cy="421" r="3.35" fill="#000"/>
<circle cx="309.5" cy="423.4" r="3.35" fill="#000"/>
<circle cx="309.5" cy="430" r="3.35" fill="#000"/>
<circle cx="309.5" cy="437" r="3.35" fill="#000"/>
<circle cx="309.5" cy="447.5" r="3.35" fill="#000"/>
<circle cx="299.8" cy="484.9" r="3.15" fill="#8e8e8e"/>
<circle cx="309.7" cy="484.9" r="3.15" fill="#8e8e8e"/>
<circle cx="319.8" cy="484.9" r="3.15" fill="#8e8e8e"/>
<line x1="253.5" y1="417" x2="279.9" y2="417" stroke="#000" stroke-width="1.6" />
<line x1="266.7" y1="402.2" x2="266.7" y2="432.8" stroke="#000" stroke-width="1.3" />
<line x1="260.6" y1="402.2" x2="272.8" y2="402.2" stroke="#000" stroke-width="1.3" />
<line x1="260.6" y1="432.8" x2="272.8" y2="432.8" stroke="#000" stroke-width="1.3" />
<line x1="297" y1="416.3" x2="322.6" y2="416.3" stroke="#000" stroke-width="1.6" />
<line x1="309.8" y1="403.4" x2="309.8" y2="428.8" stroke="#000" stroke-width="1.3" />
<line x1="303.6" y1="403.4" x2="316" y2="403.4" stroke="#000" stroke-width="1.3" />
<line x1="303.6" y1="428.8" x2="316" y2="428.8" stroke="#000" stroke-width="1.3" />
<text x="420.8" y="317.2" font-size="17.5" fill="#222" text-anchor="start" font-weight="bold" >aii</text>
<text x="558.3" y="315.2" font-size="11.5" fill="#1c1c1c" stroke="#1c1c1c" stroke-width="0.3" text-anchor="middle" >wingbeat</text>
<line x1="478.3" y1="321.6" x2="632.5" y2="321.6" stroke="#111" stroke-width="2" />
<line x1="479.2" y1="321.8" x2="479.2" y2="532.5" stroke="#111" stroke-width="2" />
<line x1="478.2" y1="531.6" x2="632.5" y2="531.6" stroke="#111" stroke-width="2" />
<line x1="631.5" y1="320.8" x2="631.5" y2="532.6" stroke="#111" stroke-width="2" />
<line x1="561.5" y1="321.8" x2="561.5" y2="531.6" stroke="#111" stroke-width="1.6" />
<line x1="471" y1="336.6" x2="479.2" y2="336.6" stroke="#111" stroke-width="2" />
<text x="463.8" y="340.6" font-size="11.3" fill="#1c1c1c" stroke="#1c1c1c" stroke-width="0.3" text-anchor="end" >230</text>
<line x1="471" y1="375.6" x2="479.2" y2="375.6" stroke="#111" stroke-width="2" />
<text x="463.8" y="379.6" font-size="11.3" fill="#1c1c1c" stroke="#1c1c1c" stroke-width="0.3" text-anchor="end" >220</text>
<line x1="471" y1="414.6" x2="479.2" y2="414.6" stroke="#111" stroke-width="2" />
<text x="463.8" y="418.6" font-size="11.3" fill="#1c1c1c" stroke="#1c1c1c" stroke-width="0.3" text-anchor="end" >210</text>
<line x1="471" y1="453.6" x2="479.2" y2="453.6" stroke="#111" stroke-width="2" />
<text x="463.8" y="457.6" font-size="11.3" fill="#1c1c1c" stroke="#1c1c1c" stroke-width="0.3" text-anchor="end" >200</text>
<line x1="471" y1="492.6" x2="479.2" y2="492.6" stroke="#111" stroke-width="2" />
<text x="463.8" y="496.6" font-size="11.3" fill="#1c1c1c" stroke="#1c1c1c" stroke-width="0.3" text-anchor="end" >190</text>
<line x1="471" y1="531.6" x2="479.2" y2="531.6" stroke="#111" stroke-width="2" />
<text x="463.8" y="535.6" font-size="11.3" fill="#1c1c1c" stroke="#1c1c1c" stroke-width="0.3" text-anchor="end" >180</text>
<line x1="631.5" y1="344.7" x2="639.6" y2="344.7" stroke="#111" stroke-width="2" />
<text x="641.4" y="348.7" font-size="11.3" fill="#1c1c1c" stroke="#1c1c1c" stroke-width="0.3" text-anchor="start" >30</text>
<line x1="631.5" y1="383.9" x2="639.6" y2="383.9" stroke="#111" stroke-width="2" />
<text x="641.4" y="387.9" font-size="11.3" fill="#1c1c1c" stroke="#1c1c1c" stroke-width="0.3" text-anchor="start" >20</text>
<line x1="631.5" y1="423.1" x2="639.6" y2="423.1" stroke="#111" stroke-width="2" />
<text x="641.4" y="427.1" font-size="11.3" fill="#1c1c1c" stroke="#1c1c1c" stroke-width="0.3" text-anchor="start" >10</text>
<line x1="631.5" y1="462.3" x2="639.6" y2="462.3" stroke="#111" stroke-width="2" />
<text x="641.4" y="466.3" font-size="11.3" fill="#1c1c1c" stroke="#1c1c1c" stroke-width="0.3" text-anchor="start" >0</text>
<line x1="631.5" y1="501.5" x2="639.6" y2="501.5" stroke="#111" stroke-width="2" />
<text x="484" y="336.6" font-size="11.3" fill="#1c1c1c" stroke="#1c1c1c" stroke-width="0.3" text-anchor="start" >light off</text>
<text x="539.2" y="336.6" font-size="11.3" fill="#1c1c1c" stroke="#1c1c1c" stroke-width="0.3" text-anchor="start" >on</text>
<text x="0" y="0" font-size="11.3" fill="#1c1c1c" stroke="#1c1c1c" stroke-width="0.3" text-anchor="middle" transform="translate(436.9,433.2) rotate(-90)">wingbeat frequency [Hz]</text>
<text x="0" y="0" font-size="11.3" fill="#1c1c1c" stroke="#1c1c1c" stroke-width="0.3" text-anchor="middle" transform="translate(666.2,425.7) rotate(-90)">mean difference [Hz]</text>
<line x1="505" y1="445.9" x2="544" y2="444.7" stroke="#999" stroke-width="1.3" />
<line x1="505" y1="460.3" x2="544" y2="459.3" stroke="#999" stroke-width="1.3" />
<line x1="505" y1="482.2" x2="544" y2="481.2" stroke="#999" stroke-width="1.3" />
<line x1="505" y1="409.6" x2="544" y2="355.2" stroke="#111" stroke-width="1.25" />
<line x1="505" y1="410.5" x2="544" y2="358.5" stroke="#111" stroke-width="1.25" />
<line x1="505" y1="417.1" x2="544" y2="394.2" stroke="#111" stroke-width="1.25" />
<line x1="505" y1="429" x2="544" y2="425.5" stroke="#111" stroke-width="1.25" />
<line x1="505" y1="438.4" x2="544" y2="400.4" stroke="#111" stroke-width="1.25" />
<line x1="505" y1="469.3" x2="544" y2="415.9" stroke="#111" stroke-width="1.25" />
<line x1="505" y1="475.3" x2="544" y2="431.5" stroke="#111" stroke-width="1.25" />
<line x1="505" y1="507.7" x2="544" y2="409.6" stroke="#111" stroke-width="1.25" />
<line x1="505" y1="509.7" x2="544" y2="411" stroke="#111" stroke-width="1.25" />
<line x1="505" y1="512.5" x2="544" y2="465.5" stroke="#111" stroke-width="1.25" />
<line x1="505" y1="516.6" x2="544" y2="486" stroke="#111" stroke-width="1.25" />
<circle cx="505" cy="409.6" r="3.15" fill="#1b8f4c" stroke="#0e5a2e" stroke-width="0.9"/>
<circle cx="505" cy="410.5" r="3.15" fill="#1b8f4c" stroke="#0e5a2e" stroke-width="0.9"/>
<circle cx="505" cy="417.1" r="3.15" fill="#1b8f4c" stroke="#0e5a2e" stroke-width="0.9"/>
<circle cx="505" cy="429" r="3.15" fill="#1b8f4c" stroke="#0e5a2e" stroke-width="0.9"/>
<circle cx="505" cy="438.4" r="3.15" fill="#1b8f4c" stroke="#0e5a2e" stroke-width="0.9"/>
<circle cx="505" cy="469.3" r="3.15" fill="#1b8f4c" stroke="#0e5a2e" stroke-width="0.9"/>
<circle cx="505" cy="475.3" r="3.15" fill="#1b8f4c" stroke="#0e5a2e" stroke-width="0.9"/>
<circle cx="505" cy="507.7" r="3.15" fill="#1b8f4c" stroke="#0e5a2e" stroke-width="0.9"/>
<circle cx="505" cy="509.7" r="3.15" fill="#1b8f4c" stroke="#0e5a2e" stroke-width="0.9"/>
<circle cx="505" cy="512.5" r="3.15" fill="#1b8f4c" stroke="#0e5a2e" stroke-width="0.9"/>
<circle cx="505" cy="516.6" r="3.15" fill="#1b8f4c" stroke="#0e5a2e" stroke-width="0.9"/>
<circle cx="544" cy="355.2" r="3.15" fill="#3b3889" stroke="#25235f" stroke-width="0.9"/>
<circle cx="544" cy="358.5" r="3.15" fill="#3b3889" stroke="#25235f" stroke-width="0.9"/>
<circle cx="544" cy="394.2" r="3.15" fill="#3b3889" stroke="#25235f" stroke-width="0.9"/>
<circle cx="544" cy="425.5" r="3.15" fill="#3b3889" stroke="#25235f" stroke-width="0.9"/>
<circle cx="544" cy="400.4" r="3.15" fill="#3b3889" stroke="#25235f" stroke-width="0.9"/>
<circle cx="544" cy="415.9" r="3.15" fill="#3b3889" stroke="#25235f" stroke-width="0.9"/>
<circle cx="544" cy="431.5" r="3.15" fill="#3b3889" stroke="#25235f" stroke-width="0.9"/>
<circle cx="544" cy="409.6" r="3.15" fill="#3b3889" stroke="#25235f" stroke-width="0.9"/>
<circle cx="544" cy="411" r="3.15" fill="#3b3889" stroke="#25235f" stroke-width="0.9"/>
<circle cx="544" cy="465.5" r="3.15" fill="#3b3889" stroke="#25235f" stroke-width="0.9"/>
<circle cx="544" cy="486" r="3.15" fill="#3b3889" stroke="#25235f" stroke-width="0.9"/>
<circle cx="505" cy="445.9" r="3.15" fill="#8c8c8c" stroke="#6a6a6a" stroke-width="0.9"/>
<circle cx="544" cy="444.7" r="3.05" fill="#9a9ae0" stroke="#2222d4" stroke-width="1.9"/>
<circle cx="505" cy="460.3" r="3.15" fill="#8c8c8c" stroke="#6a6a6a" stroke-width="0.9"/>
<circle cx="544" cy="459.3" r="3.05" fill="#9a9ae0" stroke="#2222d4" stroke-width="1.9"/>
<circle cx="505" cy="482.2" r="3.15" fill="#8c8c8c" stroke="#6a6a6a" stroke-width="0.9"/>
<circle cx="544" cy="481.2" r="3.05" fill="#9a9ae0" stroke="#2222d4" stroke-width="1.9"/>
<circle cx="568.5" cy="333.4" r="3.4000000000000004" fill="#000"/>
<text x="574.5" y="337.6" font-size="11.3" fill="#1c1c1c" stroke="#1c1c1c" stroke-width="0.3" text-anchor="start" >Cha:ChR</text>
<circle cx="568.5" cy="349" r="3.2" fill="#8e8e8e"/>
<text x="574.5" y="352" font-size="11.3" fill="#1c1c1c" stroke="#1c1c1c" stroke-width="0.3" text-anchor="start" >control</text>
<circle cx="585.9" cy="370" r="3.35" fill="#000"/>
<circle cx="598.5" cy="364.6" r="3.35" fill="#000"/>
<circle cx="592.5" cy="401.5" r="3.35" fill="#000"/>
<circle cx="585.9" cy="412" r="3.35" fill="#000"/>
<circle cx="598.5" cy="412" r="3.35" fill="#000"/>
<circle cx="592.5" cy="418" r="3.35" fill="#000"/>
<circle cx="585.9" cy="424.5" r="3.35" fill="#000"/>
<circle cx="598.5" cy="424.5" r="3.35" fill="#000"/>
<circle cx="592.5" cy="436.5" r="3.35" fill="#000"/>
<circle cx="592.5" cy="448" r="3.35" fill="#000"/>
<circle cx="592.5" cy="459" r="3.35" fill="#000"/>
<circle cx="582.6" cy="461.4" r="3.15" fill="#8e8e8e"/>
<circle cx="592.5" cy="463" r="3.15" fill="#8e8e8e"/>
<circle cx="602.4" cy="460" r="3.15" fill="#8e8e8e"/>
<line x1="579.2" y1="415.5" x2="605.2" y2="415.5" stroke="#000" stroke-width="1.6" />
<line x1="592.2" y1="396.4" x2="592.2" y2="435.3" stroke="#000" stroke-width="1.3" />
<line x1="585.9" y1="396.4" x2="598.5" y2="396.4" stroke="#000" stroke-width="1.3" />
<line x1="585.9" y1="435.3" x2="598.5" y2="435.3" stroke="#000" stroke-width="1.3" />
<text x="3" y="555.6" font-size="17" fill="#222" text-anchor="start" font-weight="bold" >b</text>
<path d="M49.3,737.3 L49.30,657.92 L51.96,657.92 L51.96,656.60 L54.62,656.60 L54.62,652.63 L57.28,652.63 L57.28,642.93 L59.94,642.93 L59.94,646.45 L62.60,646.45 L62.60,614.26 L65.26,614.26 L65.26,632.34 L67.92,632.34 L67.92,630.58 L70.58,630.58 L70.58,652.63 L73.24,652.63 L73.24,631.02 L75.90,631.02 L75.90,627.49 L78.56,627.49 L78.56,637.19 L81.22,637.19 L81.22,638.07 L83.88,638.07 L83.88,639.40 L86.54,639.40 L86.54,615.58 L89.20,615.58 L89.20,637.19 L91.86,637.19 L91.86,651.75 L94.52,651.75 L94.52,629.25 L97.18,629.25 L97.18,608.97 L99.84,608.97 L99.84,613.82 L102.50,613.82 L102.50,643.37 L105.16,643.37 L105.16,666.74 L107.82,666.74 L107.82,613.82 L110.48,613.82 L110.48,640.72 L113.14,640.72 L113.14,632.34 L115.80,632.34 L115.80,637.19 L118.46,637.19 L118.46,603.68 L121.12,603.68 L121.12,634.99 L123.78,634.99 L123.78,649.98 L126.44,649.98 L126.44,634.99 L129.10,634.99 L129.10,619.55 L131.76,619.55 L131.76,653.95 L134.42,653.95 L134.42,655.71 L137.08,655.71 L137.08,667.62 L139.74,667.62 L139.74,670.27 L142.40,670.27 L142.40,681.29 L145.06,681.29 L145.06,671.59 L147.72,671.59 L147.72,684.38 L150.38,684.38 L150.38,707.75 L153.04,707.75 L153.04,705.55 L155.70,705.55 L155.70,707.75 L158.36,707.75 L158.36,704.67 L161.02,704.67 L161.02,724.51 L163.68,724.51 L163.68,724.51 L166.34,724.51 L166.34,729.36 L169.00,729.36 L169.00,731.13 L171.66,731.13 L171.66,731.13 L174.32,731.13 L174.32,735.09 L176.98,735.09 L176.98,737.30 L179.64,737.30 L179.64,737.30 L182.30,737.30 L182.30,639.40 L184.96,639.40 L184.96,732.89 L187.62,732.89 L187.62,734.21 L190.28,734.21 L190.28,737.30 L192.94,737.30 L192.94,736.42 L195.60,736.42 L195.60,724.07 L198.26,724.07 L198.26,723.19 L200.92,723.19 L200.92,727.16 L203.58,727.16 L203.58,719.66 L206.24,719.66 L206.24,715.69 L208.90,715.69 L208.90,707.75 L211.56,707.75 L211.56,705.55 L214.22,705.55 L214.22,670.71 L216.88,670.71 L216.88,674.68 L219.54,674.68 L219.54,674.68 L222.20,674.68 L222.20,666.74 L224.86,666.74 L224.86,670.71 L227.52,670.71 L227.52,642.04 L230.18,642.04 L230.18,654.83 L232.84,654.83 L232.84,639.40 L235.50,639.40 L235.50,647.34 L238.16,647.34 L238.16,665.86 L240.82,665.86 L240.82,652.19 L243.48,652.19 L243.48,659.68 L246.14,659.68 L246.14,657.04 L248.80,657.04 L248.80,663.65 L251.46,663.65 L251.46,667.62 L254.12,667.62 L254.12,647.34 L256.78,647.34 L256.78,654.39 L259.44,654.39 L259.44,644.69 L262.10,644.69 L262.10,657.04 L264.76,657.04 L264.76,661.45 L267.42,661.45 L267.42,661.01 L270.08,661.01 L270.08,635.87 L272.74,635.87 L272.74,624.84 L275.40,624.84 L275.40,641.16 L278.06,641.16 L278.06,638.07 L280.72,638.07 L280.72,632.34 L283.38,632.34 L283.38,664.53 L286.04,664.53 L286.04,614.70 L288.70,614.70 L288.70,648.22 L291.36,648.22 L291.36,657.04 L294.02,657.04 L294.02,653.51 L296.68,653.51 L296.68,657.92 L299.34,657.92 L299.34,669.83 L302.00,669.83 L302.00,647.34 L304.66,647.34 L304.66,646.89 L307.32,646.89 L307.32,666.74 L309.98,666.74 L309.98,649.10 L312.64,649.10 L312.64,651.30 L315.30,651.30 L315.30,737.3 Z" fill="#8e8e8e"/>
<path d="M49.3,737.3 L49.30,690.99 L51.96,690.99 L51.96,695.85 L54.62,695.85 L54.62,686.14 L57.28,686.14 L57.28,680.41 L59.94,680.41 L59.94,686.14 L62.60,686.14 L62.60,662.33 L65.26,662.33 L65.26,671.59 L67.92,671.59 L67.92,676.44 L70.58,676.44 L70.58,675.56 L73.24,675.56 L73.24,666.74 L75.90,666.74 L75.90,670.71 L78.56,670.71 L78.56,672.47 L81.22,672.47 L81.22,671.59 L83.88,671.59 L83.88,673.80 L86.54,673.80 L86.54,656.60 L89.20,656.60 L89.20,673.80 L91.86,673.80 L91.86,679.53 L94.52,679.53 L94.52,661.89 L97.18,661.89 L97.18,657.92 L99.84,657.92 L99.84,679.53 L102.50,679.53 L102.50,661.45 L105.16,661.45 L105.16,674.68 L107.82,674.68 L107.82,675.56 L110.48,675.56 L110.48,679.97 L113.14,679.97 L113.14,677.76 L115.80,677.76 L115.80,676.44 L118.46,676.44 L118.46,672.47 L121.12,672.47 L121.12,682.17 L123.78,682.17 L123.78,680.41 L126.44,680.41 L126.44,680.41 L129.10,680.41 L129.10,674.68 L131.76,674.68 L131.76,692.32 L134.42,692.32 L134.42,683.06 L137.08,683.06 L137.08,700.26 L139.74,700.26 L139.74,689.67 L142.40,689.67 L142.40,702.02 L145.06,702.02 L145.06,699.37 L147.72,699.37 L147.72,706.87 L150.38,706.87 L150.38,720.54 L153.04,720.54 L153.04,716.57 L155.70,716.57 L155.70,725.39 L158.36,725.39 L158.36,721.42 L161.02,721.42 L161.02,732.01 L163.68,732.01 L163.68,732.01 L166.34,732.01 L166.34,735.09 L169.00,735.09 L169.00,735.09 L171.66,735.09 L171.66,735.09 L174.32,735.09 L174.32,737.30 L176.98,737.30 L176.98,737.30 L179.64,737.30 L179.64,737.30 L182.30,737.30 L182.30,670.71 L184.96,670.71 L184.96,735.54 L187.62,735.54 L187.62,736.42 L190.28,736.42 L190.28,737.30 L192.94,737.30 L192.94,737.30 L195.60,737.30 L195.60,734.21 L198.26,734.21 L198.26,734.65 L200.92,734.65 L200.92,735.09 L203.58,735.09 L203.58,733.77 L206.24,733.77 L206.24,728.48 L208.90,728.48 L208.90,725.39 L211.56,725.39 L211.56,722.75 L214.22,722.75 L214.22,705.55 L216.88,705.55 L216.88,703.78 L219.54,703.78 L219.54,705.55 L222.20,705.55 L222.20,698.93 L224.86,698.93 L224.86,695.85 L227.52,695.85 L227.52,684.38 L230.18,684.38 L230.18,690.11 L232.84,690.11 L232.84,676.44 L235.50,676.44 L235.50,674.68 L238.16,674.68 L238.16,695.85 L240.82,695.85 L240.82,678.65 L243.48,678.65 L243.48,684.38 L246.14,684.38 L246.14,688.35 L248.80,688.35 L248.80,687.91 L251.46,687.91 L251.46,685.70 L254.12,685.70 L254.12,675.56 L256.78,675.56 L256.78,683.50 L259.44,683.50 L259.44,677.76 L262.10,677.76 L262.10,683.50 L264.76,683.50 L264.76,688.79 L267.42,688.79 L267.42,693.20 L270.08,693.20 L270.08,682.62 L272.74,682.62 L272.74,672.47 L275.40,672.47 L275.40,687.91 L278.06,687.91 L278.06,687.91 L280.72,687.91 L280.72,673.35 L283.38,673.35 L283.38,686.58 L286.04,686.58 L286.04,674.68 L288.70,674.68 L288.70,685.70 L291.36,685.70 L291.36,698.93 L294.02,698.93 L294.02,687.91 L296.68,687.91 L296.68,690.11 L299.34,690.11 L299.34,698.93 L302.00,698.93 L302.00,679.97 L304.66,679.97 L304.66,683.50 L307.32,683.50 L307.32,692.32 L309.98,692.32 L309.98,690.11 L312.64,690.11 L312.64,690.11 L315.30,690.11 L315.30,737.3 Z" fill="#0c4a0c"/>
<path d="M49.3,737.3 L49.30,722.31 L51.96,722.31 L51.96,728.48 L54.62,728.48 L54.62,718.34 L57.28,718.34 L57.28,717.45 L59.94,717.45 L59.94,728.48 L62.60,728.48 L62.60,710.84 L65.26,710.84 L65.26,711.72 L67.92,711.72 L67.92,724.07 L70.58,724.07 L70.58,699.81 L73.24,699.81 L73.24,702.02 L75.90,702.02 L75.90,715.25 L78.56,715.25 L78.56,709.08 L81.22,709.08 L81.22,705.11 L83.88,705.11 L83.88,709.52 L86.54,709.52 L86.54,696.73 L89.20,696.73 L89.20,711.72 L91.86,711.72 L91.86,726.27 L94.52,726.27 L94.52,719.66 L97.18,719.66 L97.18,706.43 L99.84,706.43 L99.84,713.04 L102.50,713.04 L102.50,707.75 L105.16,707.75 L105.16,714.37 L107.82,714.37 L107.82,709.96 L110.48,709.96 L110.48,715.25 L113.14,715.25 L113.14,717.45 L115.80,717.45 L115.80,719.66 L118.46,719.66 L118.46,735.09 L121.12,735.09 L121.12,727.16 L123.78,727.16 L123.78,713.49 L126.44,713.49 L126.44,727.16 L129.10,727.16 L129.10,725.39 L131.76,725.39 L131.76,727.16 L134.42,727.16 L134.42,711.72 L137.08,711.72 L137.08,724.51 L139.74,724.51 L139.74,707.75 L142.40,707.75 L142.40,723.63 L145.06,723.63 L145.06,720.54 L147.72,720.54 L147.72,727.16 L150.38,727.16 L150.38,731.13 L153.04,731.13 L153.04,731.13 L155.70,731.13 L155.70,735.09 L158.36,735.09 L158.36,735.09 L161.02,735.09 L161.02,735.98 L163.68,735.98 L163.68,736.42 L166.34,736.42 L166.34,737.30 L169.00,737.30 L169.00,737.30 L171.66,737.30 L171.66,737.30 L174.32,737.30 L174.32,737.30 L176.98,737.30 L176.98,737.30 L179.64,737.30 L179.64,737.30 L182.30,737.30 L182.30,702.90 L184.96,702.90 L184.96,737.30 L187.62,737.30 L187.62,737.30 L190.28,737.30 L190.28,737.30 L192.94,737.30 L192.94,737.30 L195.60,737.30 L195.60,737.30 L198.26,737.30 L198.26,737.30 L200.92,737.30 L200.92,737.30 L203.58,737.30 L203.58,737.30 L206.24,737.30 L206.24,737.30 L208.90,737.30 L208.90,737.30 L211.56,737.30 L211.56,737.30 L214.22,737.30 L214.22,735.09 L216.88,735.09 L216.88,736.42 L219.54,736.42 L219.54,735.98 L222.20,735.98 L222.20,728.48 L224.86,728.48 L224.86,724.07 L227.52,724.07 L227.52,732.89 L230.18,732.89 L230.18,719.66 L232.84,719.66 L232.84,717.45 L235.50,717.45 L235.50,702.90 L238.16,702.90 L238.16,719.66 L240.82,719.66 L240.82,706.43 L243.48,706.43 L243.48,713.04 L246.14,713.04 L246.14,715.25 L248.80,715.25 L248.80,717.45 L251.46,717.45 L251.46,704.22 L254.12,704.22 L254.12,705.55 L256.78,705.55 L256.78,713.04 L259.44,713.04 L259.44,716.57 L262.10,716.57 L262.10,714.37 L264.76,714.37 L264.76,720.98 L267.42,720.98 L267.42,727.16 L270.08,727.16 L270.08,720.98 L272.74,720.98 L272.74,720.98 L275.40,720.98 L275.40,735.98 L278.06,735.98 L278.06,713.04 L280.72,713.04 L280.72,710.84 L283.38,710.84 L283.38,735.09 L286.04,735.09 L286.04,721.87 L288.70,721.87 L288.70,735.98 L291.36,735.98 L291.36,720.98 L294.02,720.98 L294.02,722.75 L296.68,722.75 L296.68,724.95 L299.34,724.95 L299.34,713.04 L302.00,713.04 L302.00,716.57 L304.66,716.57 L304.66,718.78 L307.32,718.78 L307.32,729.36 L309.98,729.36 L309.98,722.75 L312.64,722.75 L312.64,721.87 L315.30,721.87 L315.30,737.3 Z" fill="#168c16"/>
<line x1="49.3" y1="560.4" x2="49.3" y2="738.3" stroke="#111" stroke-width="2" />
<line x1="48.3" y1="737.3" x2="315.3" y2="737.3" stroke="#111" stroke-width="2" />
<line x1="42.3" y1="737.3" x2="49.3" y2="737.3" stroke="#111" stroke-width="2" />
<text x="31" y="742.1" font-size="11.3" fill="#1c1c1c" stroke="#1c1c1c" stroke-width="0.3" text-anchor="end" >0</text>
<line x1="42.3" y1="693.2" x2="49.3" y2="693.2" stroke="#111" stroke-width="2" />
<text x="31" y="698" font-size="11.3" fill="#1c1c1c" stroke="#1c1c1c" stroke-width="0.3" text-anchor="end" >1</text>
<line x1="42.3" y1="649.1" x2="49.3" y2="649.1" stroke="#111" stroke-width="2" />
<text x="31" y="653.9" font-size="11.3" fill="#1c1c1c" stroke="#1c1c1c" stroke-width="0.3" text-anchor="end" >2</text>
<line x1="42.3" y1="605" x2="49.3" y2="605" stroke="#111" stroke-width="2" />
<text x="31" y="609.8" font-size="11.3" fill="#1c1c1c" stroke="#1c1c1c" stroke-width="0.3" text-anchor="end" >3</text>
<line x1="42.3" y1="560.9" x2="49.3" y2="560.9" stroke="#111" stroke-width="2" />
<text x="31" y="565.7" font-size="11.3" fill="#1c1c1c" stroke="#1c1c1c" stroke-width="0.3" text-anchor="end" >4</text>
<text x="0" y="0" font-size="11.3" fill="#1c1c1c" stroke="#1c1c1c" stroke-width="0.3" text-anchor="middle" transform="translate(14.8,654.5) rotate(-90)">occurrence [%]</text>
<text x="44.6" y="753.2" font-size="11.3" fill="#1c1c1c" stroke="#1c1c1c" stroke-width="0.3" text-anchor="middle" >-0.5</text>
<text x="182.3" y="753.2" font-size="11.3" fill="#1c1c1c" stroke="#1c1c1c" stroke-width="0.3" text-anchor="middle" >0.0</text>
<text x="314.2" y="753.2" font-size="11.3" fill="#1c1c1c" stroke="#1c1c1c" stroke-width="0.3" text-anchor="middle" >0.5</text>
<text x="180.5" y="763.5" font-size="11.3" fill="#1c1c1c" stroke="#1c1c1c" stroke-width="0.3" text-anchor="middle" >phase [φ]</text>
<text x="189.3" y="554" font-size="11.3" fill="#1c1c1c" stroke="#1c1c1c" stroke-width="0.3" text-anchor="middle" >control patterns n=11</text>
<path d="M413.1,737.7 L413.10,674.20 L415.76,674.20 L415.76,659.64 L418.42,659.64 L418.42,652.59 L421.08,652.59 L421.08,675.96 L423.74,675.96 L423.74,660.53 L426.40,660.53 L426.40,678.17 L429.06,678.17 L429.06,628.77 L431.72,628.77 L431.72,662.29 L434.38,662.29 L434.38,652.15 L437.04,652.15 L437.04,650.82 L439.70,650.82 L439.70,639.80 L442.36,639.80 L442.36,641.12 L445.02,641.12 L445.02,638.92 L447.68,638.92 L447.68,609.81 L450.34,609.81 L450.34,642.00 L453.00,642.00 L453.00,644.65 L455.66,644.65 L455.66,650.82 L458.32,650.82 L458.32,635.83 L460.98,635.83 L460.98,641.12 L463.64,641.12 L463.64,655.67 L466.30,655.67 L466.30,632.30 L468.96,632.30 L468.96,663.17 L471.62,663.17 L471.62,642.44 L474.28,642.44 L474.28,671.55 L476.94,671.55 L476.94,645.97 L479.60,645.97 L479.60,659.64 L482.26,659.64 L482.26,675.96 L484.92,675.96 L484.92,679.05 L487.58,679.05 L487.58,638.03 L490.24,638.03 L490.24,667.14 L492.90,667.14 L492.90,658.32 L495.56,658.32 L495.56,665.38 L498.22,665.38 L498.22,671.99 L500.88,671.99 L500.88,665.38 L503.54,665.38 L503.54,689.19 L506.20,689.19 L506.20,679.05 L508.86,679.05 L508.86,675.96 L511.52,675.96 L511.52,692.72 L514.18,692.72 L514.18,694.48 L516.84,694.48 L516.84,686.99 L519.50,686.99 L519.50,702.42 L522.16,702.42 L522.16,694.48 L524.82,694.48 L524.82,706.39 L527.48,706.39 L527.48,707.27 L530.14,707.27 L530.14,722.27 L532.80,722.27 L532.80,729.76 L535.46,729.76 L535.46,732.85 L538.12,732.85 L538.12,735.94 L540.78,735.94 L540.78,736.82 L543.44,736.82 L543.44,734.61 L546.10,734.61 L546.10,576.29 L548.76,576.29 L548.76,730.64 L551.42,730.64 L551.42,732.85 L554.08,732.85 L554.08,735.94 L556.74,735.94 L556.74,719.18 L559.40,719.18 L559.40,713.45 L562.06,713.45 L562.06,720.94 L564.72,720.94 L564.72,712.12 L567.38,712.12 L567.38,719.18 L570.04,719.18 L570.04,703.30 L572.70,703.30 L572.70,679.05 L575.36,679.05 L575.36,705.51 L578.02,705.51 L578.02,685.66 L580.68,685.66 L580.68,689.63 L583.34,689.63 L583.34,658.32 L586.00,658.32 L586.00,689.63 L588.66,689.63 L588.66,665.38 L591.32,665.38 L591.32,668.46 L593.98,668.46 L593.98,657.44 L596.64,657.44 L596.64,662.29 L599.30,662.29 L599.30,674.20 L601.96,674.20 L601.96,668.46 L604.62,668.46 L604.62,669.35 L607.28,669.35 L607.28,659.64 L609.94,659.64 L609.94,664.49 L612.60,664.49 L612.60,654.79 L615.26,654.79 L615.26,663.61 L617.92,663.61 L617.92,675.96 L620.58,675.96 L620.58,660.53 L623.24,660.53 L623.24,670.23 L625.90,670.23 L625.90,660.53 L628.56,660.53 L628.56,651.71 L631.22,651.71 L631.22,667.14 L633.88,667.14 L633.88,658.32 L636.54,658.32 L636.54,663.61 L639.20,663.61 L639.20,660.08 L641.86,660.08 L641.86,661.41 L644.52,661.41 L644.52,654.79 L647.18,654.79 L647.18,671.99 L649.84,671.99 L649.84,660.08 L652.50,660.08 L652.50,660.08 L655.16,660.08 L655.16,682.13 L657.82,682.13 L657.82,671.99 L660.48,671.99 L660.48,675.96 L663.14,675.96 L663.14,689.63 L665.80,689.63 L665.80,679.05 L668.46,679.05 L668.46,679.05 L671.12,679.05 L671.12,682.13 L673.78,682.13 L673.78,670.23 L676.44,670.23 L676.44,683.90 L679.10,683.90 L679.10,737.7 Z" fill="#8e8e8e"/>
<path d="M413.1,737.7 L413.10,686.99 L415.76,686.99 L415.76,692.72 L418.42,692.72 L418.42,679.05 L421.08,679.05 L421.08,686.99 L423.74,686.99 L423.74,685.66 L426.40,685.66 L426.40,675.96 L429.06,675.96 L429.06,668.46 L431.72,668.46 L431.72,679.05 L434.38,679.05 L434.38,675.08 L437.04,675.08 L437.04,674.64 L439.70,674.64 L439.70,667.14 L442.36,667.14 L442.36,662.29 L445.02,662.29 L445.02,669.35 L447.68,669.35 L447.68,655.67 L450.34,655.67 L450.34,663.17 L453.00,663.17 L453.00,669.35 L455.66,669.35 L455.66,663.17 L458.32,663.17 L458.32,665.38 L460.98,665.38 L460.98,668.46 L463.64,668.46 L463.64,675.96 L466.30,675.96 L466.30,666.26 L468.96,666.26 L468.96,678.17 L471.62,678.17 L471.62,673.31 L474.28,673.31 L474.28,689.63 L476.94,689.63 L476.94,675.96 L479.60,675.96 L479.60,678.17 L482.26,678.17 L482.26,679.05 L484.92,679.05 L484.92,695.81 L487.58,695.81 L487.58,679.93 L490.24,679.93 L490.24,683.90 L492.90,683.90 L492.90,689.63 L495.56,689.63 L495.56,691.84 L498.22,691.84 L498.22,701.54 L500.88,701.54 L500.88,691.84 L503.54,691.84 L503.54,703.30 L506.20,703.30 L506.20,696.69 L508.86,696.69 L508.86,702.42 L511.52,702.42 L511.52,707.27 L514.18,707.27 L514.18,708.15 L516.84,708.15 L516.84,710.36 L519.50,710.36 L519.50,715.21 L522.16,715.21 L522.16,712.12 L524.82,712.12 L524.82,719.18 L527.48,719.18 L527.48,723.15 L530.14,723.15 L530.14,724.91 L532.80,724.91 L532.80,730.64 L535.46,730.64 L535.46,733.73 L538.12,733.73 L538.12,735.94 L540.78,735.94 L540.78,736.82 L543.44,736.82 L543.44,736.82 L546.10,736.82 L546.10,617.75 L548.76,617.75 L548.76,734.61 L551.42,734.61 L551.42,735.94 L554.08,735.94 L554.08,736.38 L556.74,736.38 L556.74,730.64 L559.40,730.64 L559.40,728.00 L562.06,728.00 L562.06,728.00 L564.72,728.00 L564.72,728.00 L567.38,728.00 L567.38,727.12 L570.04,727.12 L570.04,718.30 L572.70,718.30 L572.70,698.45 L575.36,698.45 L575.36,715.21 L578.02,715.21 L578.02,704.62 L580.68,704.62 L580.68,708.15 L583.34,708.15 L583.34,695.81 L586.00,695.81 L586.00,707.27 L588.66,707.27 L588.66,695.81 L591.32,695.81 L591.32,694.48 L593.98,694.48 L593.98,683.02 L596.64,683.02 L596.64,693.60 L599.30,693.60 L599.30,691.84 L601.96,691.84 L601.96,688.75 L604.62,688.75 L604.62,688.75 L607.28,688.75 L607.28,686.99 L609.94,686.99 L609.94,684.78 L612.60,684.78 L612.60,685.66 L615.26,685.66 L615.26,687.87 L617.92,687.87 L617.92,695.81 L620.58,695.81 L620.58,684.78 L623.24,684.78 L623.24,687.87 L625.90,687.87 L625.90,686.99 L628.56,686.99 L628.56,675.96 L631.22,675.96 L631.22,689.63 L633.88,689.63 L633.88,682.13 L636.54,682.13 L636.54,683.02 L639.20,683.02 L639.20,682.13 L641.86,682.13 L641.86,683.90 L644.52,683.90 L644.52,684.78 L647.18,684.78 L647.18,683.90 L649.84,683.90 L649.84,687.87 L652.50,687.87 L652.50,677.28 L655.16,677.28 L655.16,691.84 L657.82,691.84 L657.82,683.90 L660.48,683.90 L660.48,689.63 L663.14,689.63 L663.14,697.57 L665.80,697.57 L665.80,693.60 L668.46,693.60 L668.46,691.84 L671.12,691.84 L671.12,697.57 L673.78,697.57 L673.78,691.84 L676.44,691.84 L676.44,698.45 L679.10,698.45 L679.10,737.7 Z" fill="#0b0b8a"/>
<path d="M413.1,737.7 L413.10,699.77 L415.76,699.77 L415.76,714.33 L418.42,714.33 L418.42,699.77 L421.08,699.77 L421.08,707.27 L423.74,707.27 L423.74,711.24 L426.40,711.24 L426.40,686.99 L429.06,686.99 L429.06,695.81 L431.72,695.81 L431.72,691.84 L434.38,691.84 L434.38,697.57 L437.04,697.57 L437.04,695.81 L439.70,695.81 L439.70,685.66 L442.36,685.66 L442.36,682.13 L445.02,682.13 L445.02,694.48 L447.68,694.48 L447.68,683.90 L450.34,683.90 L450.34,702.42 L453.00,702.42 L453.00,680.81 L455.66,680.81 L455.66,697.57 L458.32,697.57 L458.32,695.81 L460.98,695.81 L460.98,696.69 L463.64,696.69 L463.64,695.81 L466.30,695.81 L466.30,696.69 L468.96,696.69 L468.96,699.77 L471.62,699.77 L471.62,707.27 L474.28,707.27 L474.28,709.48 L476.94,709.48 L476.94,695.81 L479.60,695.81 L479.60,703.30 L482.26,703.30 L482.26,707.27 L484.92,707.27 L484.92,716.97 L487.58,716.97 L487.58,711.24 L490.24,711.24 L490.24,713.45 L492.90,713.45 L492.90,715.21 L495.56,715.21 L495.56,710.36 L498.22,710.36 L498.22,727.12 L500.88,727.12 L500.88,716.97 L503.54,716.97 L503.54,715.21 L506.20,715.21 L506.20,724.91 L508.86,724.91 L508.86,716.09 L511.52,716.09 L511.52,727.12 L514.18,727.12 L514.18,724.91 L516.84,724.91 L516.84,730.64 L519.50,730.64 L519.50,728.88 L522.16,728.88 L522.16,731.97 L524.82,731.97 L524.82,734.61 L527.48,734.61 L527.48,735.94 L530.14,735.94 L530.14,735.94 L532.80,735.94 L532.80,736.82 L535.46,736.82 L535.46,737.70 L538.12,737.70 L538.12,737.70 L540.78,737.70 L540.78,737.70 L543.44,737.70 L543.44,737.70 L546.10,737.70 L546.10,659.64 L548.76,659.64 L548.76,737.70 L551.42,737.70 L551.42,737.70 L554.08,737.70 L554.08,737.70 L556.74,737.70 L556.74,736.82 L559.40,736.82 L559.40,735.94 L562.06,735.94 L562.06,735.94 L564.72,735.94 L564.72,735.94 L567.38,735.94 L567.38,732.85 L570.04,732.85 L570.04,718.30 L572.70,718.30 L572.70,728.88 L575.36,728.88 L575.36,724.91 L578.02,724.91 L578.02,719.18 L580.68,719.18 L580.68,723.15 L583.34,723.15 L583.34,727.12 L586.00,727.12 L586.00,712.12 L588.66,712.12 L588.66,724.91 L591.32,724.91 L591.32,715.21 L593.98,715.21 L593.98,725.79 L596.64,725.79 L596.64,708.15 L599.30,708.15 L599.30,719.18 L601.96,719.18 L601.96,716.97 L604.62,716.97 L604.62,708.15 L607.28,708.15 L607.28,714.33 L609.94,714.33 L609.94,711.24 L612.60,711.24 L612.60,707.27 L615.26,707.27 L615.26,706.39 L617.92,706.39 L617.92,713.45 L620.58,713.45 L620.58,707.27 L623.24,707.27 L623.24,715.21 L625.90,715.21 L625.90,708.15 L628.56,708.15 L628.56,704.62 L631.22,704.62 L631.22,715.21 L633.88,715.21 L633.88,706.39 L636.54,706.39 L636.54,705.51 L639.20,705.51 L639.20,709.48 L641.86,709.48 L641.86,712.12 L644.52,712.12 L644.52,706.39 L647.18,706.39 L647.18,711.24 L649.84,711.24 L649.84,699.77 L652.50,699.77 L652.50,706.39 L655.16,706.39 L655.16,702.42 L657.82,702.42 L657.82,711.24 L660.48,711.24 L660.48,707.27 L663.14,707.27 L663.14,715.21 L665.80,715.21 L665.80,704.62 L668.46,704.62 L668.46,715.21 L671.12,715.21 L671.12,709.48 L673.78,709.48 L673.78,711.24 L676.44,711.24 L676.44,715.21 L679.10,715.21 L679.10,737.7 Z" fill="#0c0cf8"/>
<line x1="413.1" y1="560.8" x2="413.1" y2="738.7" stroke="#111" stroke-width="2" />
<line x1="412.1" y1="737.7" x2="679.1" y2="737.7" stroke="#111" stroke-width="2" />
<line x1="406.1" y1="737.7" x2="413.1" y2="737.7" stroke="#111" stroke-width="2" />
<text x="396" y="742.5" font-size="11.3" fill="#1c1c1c" stroke="#1c1c1c" stroke-width="0.3" text-anchor="end" >0</text>
<line x1="406.1" y1="693.6" x2="413.1" y2="693.6" stroke="#111" stroke-width="2" />
<text x="396" y="698.4" font-size="11.3" fill="#1c1c1c" stroke="#1c1c1c" stroke-width="0.3" text-anchor="end" >1</text>
<line x1="406.1" y1="649.5" x2="413.1" y2="649.5" stroke="#111" stroke-width="2" />
<text x="396" y="654.3" font-size="11.3" fill="#1c1c1c" stroke="#1c1c1c" stroke-width="0.3" text-anchor="end" >2</text>
<line x1="406.1" y1="605.4" x2="413.1" y2="605.4" stroke="#111" stroke-width="2" />
<text x="396" y="610.2" font-size="11.3" fill="#1c1c1c" stroke="#1c1c1c" stroke-width="0.3" text-anchor="end" >3</text>
<line x1="406.1" y1="561.3" x2="413.1" y2="561.3" stroke="#111" stroke-width="2" />
<text x="396" y="566.1" font-size="11.3" fill="#1c1c1c" stroke="#1c1c1c" stroke-width="0.3" text-anchor="end" >4</text>
<text x="0" y="0" font-size="11.3" fill="#1c1c1c" stroke="#1c1c1c" stroke-width="0.3" text-anchor="middle" transform="translate(379.5,654.9000000000001) rotate(-90)">occurrence [%]</text>
<text x="410.6" y="753.2" font-size="11.3" fill="#1c1c1c" stroke="#1c1c1c" stroke-width="0.3" text-anchor="middle" >-0.5</text>
<text x="545.7" y="753.2" font-size="11.3" fill="#1c1c1c" stroke="#1c1c1c" stroke-width="0.3" text-anchor="middle" >0.0</text>
<text x="677" y="753.2" font-size="11.3" fill="#1c1c1c" stroke="#1c1c1c" stroke-width="0.3" text-anchor="middle" >0.5</text>
<text x="544.3" y="763.5" font-size="11.3" fill="#1c1c1c" stroke="#1c1c1c" stroke-width="0.3" text-anchor="middle" >phase [φ]</text>
<text x="553.7" y="554" font-size="11.3" fill="#1c1c1c" stroke="#1c1c1c" stroke-width="0.3" text-anchor="middle" >after light induced unpatterned</text>
<text x="552.3" y="567.2" font-size="11.3" fill="#1c1c1c" stroke="#1c1c1c" stroke-width="0.3" text-anchor="middle" >presynaptic drive n=11</text>
</svg>
</body></html>
